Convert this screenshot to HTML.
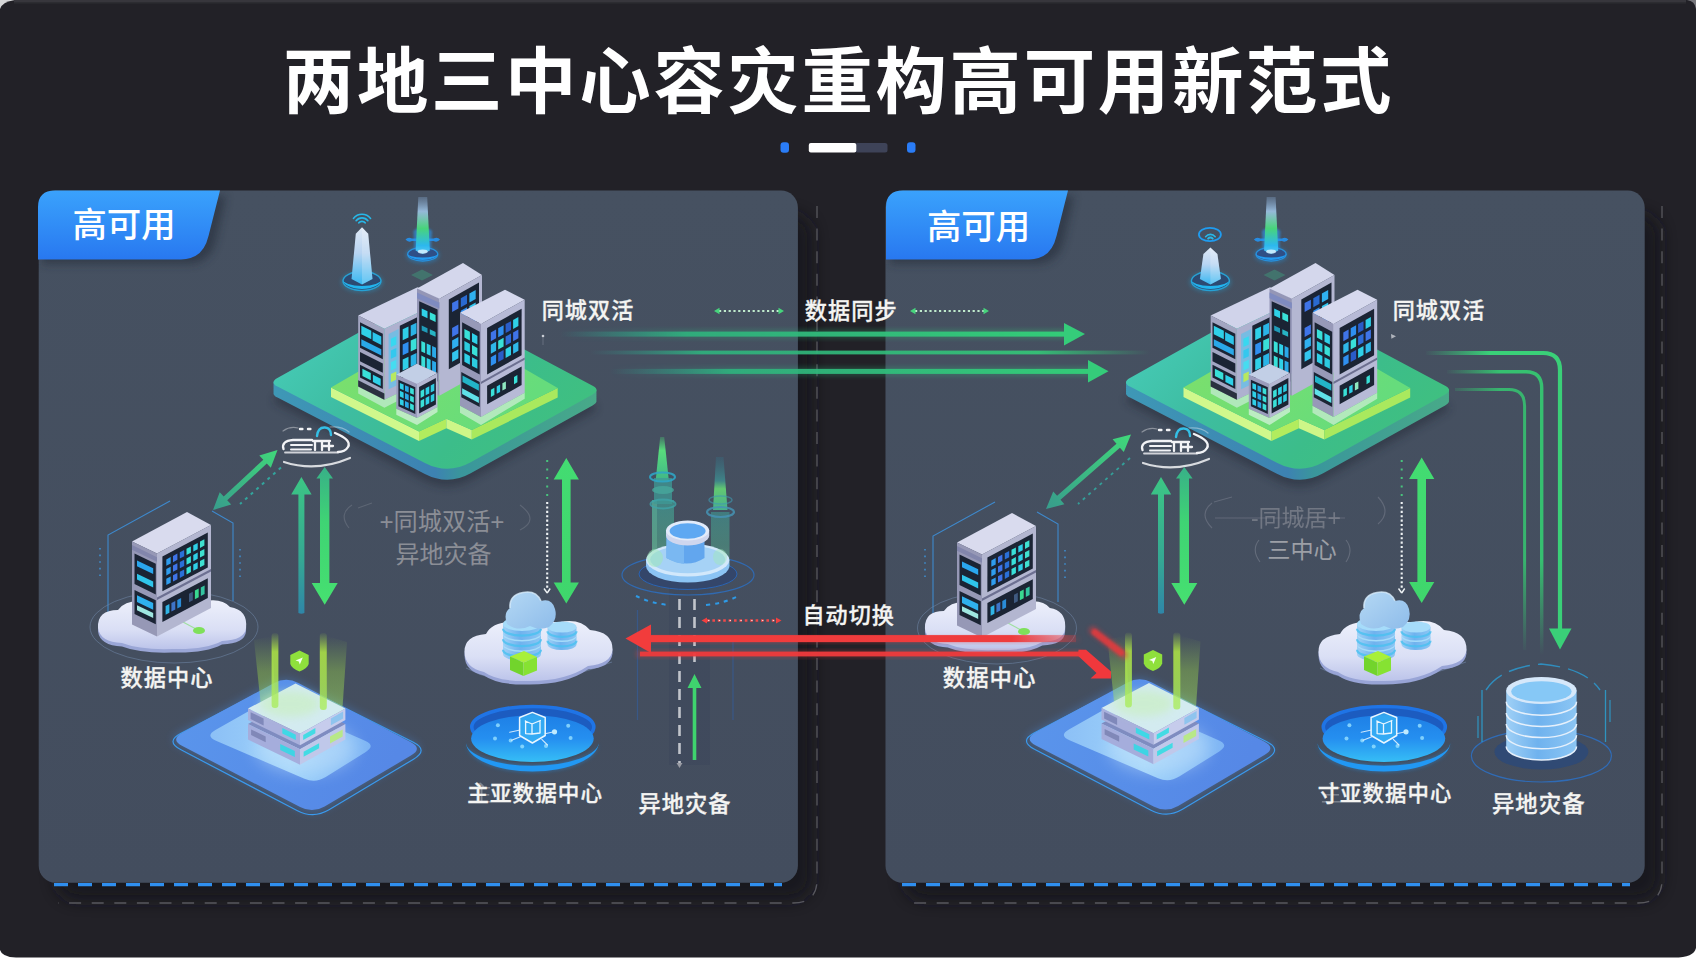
<!DOCTYPE html>
<html lang="zh"><head><meta charset="utf-8"><title>两地三中心容灾重构高可用新范式</title>
<style>
html,body{margin:0;padding:0;background:#fff;}
body{width:1696px;height:960px;overflow:hidden;position:relative;font-family:"Liberation Sans","Noto Sans CJK SC",sans-serif;}
svg{position:absolute;left:0;top:0;display:block}
svg text{font-family:"Liberation Sans","Noto Sans CJK SC",sans-serif;}
</style></head><body>
<svg width="1696" height="960" viewBox="0 0 1696 960">
<defs>

<linearGradient id="gPanel" x1="0" y1="0" x2="0" y2="1"><stop offset="0" stop-color="#465161"/><stop offset="1" stop-color="#434d5e"/></linearGradient>
<linearGradient id="gTag" x1="0" y1="0" x2="0" y2="1"><stop offset="0" stop-color="#3aa2fc"/><stop offset="1" stop-color="#2878f0"/></linearGradient>
<linearGradient id="gPlat" x1="0" y1="0.2" x2="1" y2="0.7"><stop offset="0" stop-color="#47cdb9"/><stop offset="0.35" stop-color="#3ebda2"/><stop offset="0.7" stop-color="#3cbd8a"/><stop offset="1" stop-color="#40c07e"/></linearGradient>
<linearGradient id="gPlatSide" x1="0" y1="0" x2="1" y2="0"><stop offset="0" stop-color="#3e98b6"/><stop offset="0.5" stop-color="#3d82b2"/><stop offset="0.58" stop-color="#3a969c"/><stop offset="1" stop-color="#48aa88"/></linearGradient>
<linearGradient id="gInner" x1="0" y1="0" x2="1" y2="0.4"><stop offset="0" stop-color="#7fe06a"/><stop offset="1" stop-color="#66dc7c"/></linearGradient>
<linearGradient id="gHArrow" x1="0" y1="0" x2="1" y2="0"><stop offset="0" stop-color="#2f9a90" stop-opacity="0"/><stop offset="0.25" stop-color="#2fb37e" stop-opacity="0.9"/><stop offset="1" stop-color="#34cc78"/></linearGradient>
<linearGradient id="gHLine2" x1="0" y1="0" x2="1" y2="0"><stop offset="0" stop-color="#2f9a90" stop-opacity="0"/><stop offset="0.2" stop-color="#2fb37e" stop-opacity="0.9"/><stop offset="0.8" stop-color="#34c878" stop-opacity="0.9"/><stop offset="1" stop-color="#34c878" stop-opacity="0"/></linearGradient>
<linearGradient id="gUpThin" x1="0" y1="0" x2="0" y2="1"><stop offset="0" stop-color="#3cc684"/><stop offset="0.6" stop-color="#35a893"/><stop offset="1" stop-color="#2f86a8"/></linearGradient>
<linearGradient id="gDownThick" x1="0" y1="0" x2="0" y2="1"><stop offset="0" stop-color="#38b088"/><stop offset="0.4" stop-color="#3fd474"/><stop offset="1" stop-color="#46e070"/></linearGradient>
<linearGradient id="gDbl" x1="0" y1="0" x2="0" y2="1"><stop offset="0" stop-color="#43dc72"/><stop offset="1" stop-color="#3fd66c"/></linearGradient>
<linearGradient id="gDiag" x1="1" y1="0" x2="0" y2="1"><stop offset="0" stop-color="#40d87a"/><stop offset="1" stop-color="#389c8c"/></linearGradient>
<linearGradient id="gRed" x1="0" y1="0" x2="1" y2="0"><stop offset="0" stop-color="#f23c3c"/><stop offset="0.85" stop-color="#ee3c3e"/><stop offset="1" stop-color="#ee3c3e" stop-opacity="0.25"/></linearGradient>
<linearGradient id="gCloudBase" x1="0" y1="0" x2="0" y2="1"><stop offset="0" stop-color="#edf0fb"/><stop offset="0.6" stop-color="#dadff5"/><stop offset="1" stop-color="#bcc4ea"/></linearGradient>
<linearGradient id="gBluePlat" x1="0" y1="0" x2="1" y2="0.3"><stop offset="0" stop-color="#5a96ec"/><stop offset="1" stop-color="#5688e6"/></linearGradient>
<linearGradient id="gBlueIn" x1="0" y1="0" x2="1" y2="0"><stop offset="0" stop-color="#8cc0f6"/><stop offset="0.5" stop-color="#9ed2fa"/><stop offset="1" stop-color="#7db4f4"/></linearGradient>
<linearGradient id="gBeam" x1="0" y1="0" x2="0" y2="1"><stop offset="0" stop-color="#b0e844" stop-opacity="0.05"/><stop offset="0.25" stop-color="#b0e844" stop-opacity="0.85"/><stop offset="1" stop-color="#aaec60" stop-opacity="0.8"/></linearGradient>
<linearGradient id="gBeamW" x1="0" y1="0" x2="0" y2="1"><stop offset="0" stop-color="#9fdc48" stop-opacity="0"/><stop offset="0.45" stop-color="#9fdc48" stop-opacity="0.38"/><stop offset="1" stop-color="#a6e868" stop-opacity="0.5"/></linearGradient>
<radialGradient id="gDisc" cx="0.5" cy="0.45" r="0.6"><stop offset="0" stop-color="#3eb4f4"/><stop offset="0.7" stop-color="#238ae6"/><stop offset="1" stop-color="#1c74d8"/></radialGradient>
<linearGradient id="gObelisk" x1="0" y1="0" x2="0" y2="1"><stop offset="0" stop-color="#dfe9f6"/><stop offset="0.45" stop-color="#b8d4f2"/><stop offset="1" stop-color="#38b8f2"/></linearGradient>
<linearGradient id="gTower2" x1="0" y1="0" x2="0" y2="1"><stop offset="0" stop-color="#7f9fc4" stop-opacity="0.35"/><stop offset="0.25" stop-color="#9ec4e6" stop-opacity="0.9"/><stop offset="0.55" stop-color="#48d47a"/><stop offset="0.85" stop-color="#2cb8ee"/><stop offset="1" stop-color="#5cc8f6"/></linearGradient>
<linearGradient id="gTowerG" x1="0" y1="0" x2="0" y2="1"><stop offset="0" stop-color="#46c878" stop-opacity="0.2"/><stop offset="0.35" stop-color="#42c47a" stop-opacity="0.95"/><stop offset="0.7" stop-color="#3a9aa6" stop-opacity="0.8"/><stop offset="1" stop-color="#3f78b0" stop-opacity="0.4"/></linearGradient>
<linearGradient id="gCyl" x1="0" y1="0" x2="1" y2="0"><stop offset="0" stop-color="#9fd0f6"/><stop offset="0.45" stop-color="#6fb2ee"/><stop offset="1" stop-color="#8cc6f4"/></linearGradient>
<linearGradient id="gCloudTop" x1="0" y1="0" x2="1" y2="1"><stop offset="0" stop-color="#b4d8f4"/><stop offset="1" stop-color="#8ebcea"/></linearGradient>
<linearGradient id="gTube" x1="0" y1="0" x2="0" y2="1"><stop offset="0" stop-color="#3f9a94" stop-opacity="0.7"/><stop offset="0.6" stop-color="#52b894" stop-opacity="0.5"/><stop offset="1" stop-color="#7fe0b0" stop-opacity="0.4"/></linearGradient>
<linearGradient id="gSpike" x1="0" y1="0" x2="0" y2="1"><stop offset="0" stop-color="#4ccc78" stop-opacity="0.3"/><stop offset="0.3" stop-color="#58dc7c"/><stop offset="1" stop-color="#3fb488"/></linearGradient>
<linearGradient id="gSpike2" x1="0" y1="0" x2="0" y2="1"><stop offset="0" stop-color="#3a6478" stop-opacity="0.5"/><stop offset="0.45" stop-color="#3f8488"/><stop offset="0.6" stop-color="#62c872"/><stop offset="1" stop-color="#48b08c"/></linearGradient>
<linearGradient id="gDiscL" x1="0" y1="0" x2="0" y2="1"><stop offset="0" stop-color="#1e80e6"/><stop offset="0.5" stop-color="#258ff0"/><stop offset="1" stop-color="#36bef6"/></linearGradient>
<filter id="blur1" x="-20%" y="-20%" width="140%" height="140%"><feGaussianBlur stdDeviation="1"/></filter>
<filter id="blur2" x="-30%" y="-30%" width="160%" height="160%"><feGaussianBlur stdDeviation="2.2"/></filter>
<filter id="blur4" x="-30%" y="-30%" width="160%" height="160%"><feGaussianBlur stdDeviation="4"/></filter>
<filter id="blur8" x="-30%" y="-30%" width="160%" height="160%"><feGaussianBlur stdDeviation="8"/></filter>

<clipPath id="clip38"><rect x="38.0" y="190.4" width="759.5" height="692.4" rx="17"/></clipPath>
<clipPath id="clip886"><rect x="886.0" y="190.4" width="759.5" height="692.4" rx="17"/></clipPath>
<linearGradient id="gCurve" gradientUnits="userSpaceOnUse" x1="1424" y1="0" x2="1490" y2="0"><stop offset="0" stop-color="#36c878" stop-opacity="0"/><stop offset="1" stop-color="#3ad078"/></linearGradient><linearGradient id="gCurve2" gradientUnits="userSpaceOnUse" x1="1445" y1="0" x2="1500" y2="0"><stop offset="0" stop-color="#36c070" stop-opacity="0"/><stop offset="1" stop-color="#36c070"/></linearGradient>
<linearGradient id="gFadeDown" gradientUnits="userSpaceOnUse" x1="0" y1="560" x2="0" y2="655"><stop offset="0" stop-color="#36c070"/><stop offset="1" stop-color="#36c070" stop-opacity="0"/></linearGradient>
</defs>
<rect width="1696" height="960" fill="#ffffff"/>
<rect x="0" y="0" width="30" height="20" fill="#d6d6d8"/>
<rect x="1676" y="0" width="20" height="14" fill="#77777c"/>
<path d="M0 9 Q2.5 1.5 15 0 H1687 Q1695 1 1696 9 V948 Q1694 957.6 1674 957.6 H16 Q2 957 0 950 Z" fill="#222127"/>
<rect x="14" y="0" width="1672" height="2.6" fill="#37363c"/>
<rect x="14" y="2.6" width="1672" height="1" fill="#2c2b31"/>
<rect x="56" y="214" width="756" height="686" rx="22" fill="#18171c" opacity="0.8" filter="url(#blur8)"/>
<rect x="904" y="214" width="756" height="686" rx="22" fill="#18171c" opacity="0.8" filter="url(#blur8)"/>
<path d="M817.0 206 V880 Q817.0 903 793.0 903 H58.0" fill="none" stroke="#626267" stroke-width="1.3" stroke-dasharray="12 10.6" opacity="0.85"/>
<path d="M1662.0 206 V880 Q1662.0 903 1638.0 903 H906.0" fill="none" stroke="#626267" stroke-width="1.3" stroke-dasharray="12 10.6" opacity="0.85"/>
<rect x="38.7" y="190.4" width="759.2" height="692.4" rx="17" fill="url(#gPanel)"/>
<line x1="54" y1="884.6" x2="782" y2="884.6" stroke="#2f8ff0" stroke-width="3.2" stroke-dasharray="14 10"/>
<path d="M42.0 264 H188.0 Q210.0 264 216.0 240 L226.0 196 H42.0 Z" fill="#232a38" opacity="0.55" filter="url(#blur4)" clip-path="url(#clip38)"/>
<path d="M38.0 259.4 V207 Q38.0 190.4 55.0 190.4 H220.0 L208.5 236 Q203.0 259.4 181.0 259.4 Z" fill="url(#gTag)"/>
<rect x="885.5" y="190.4" width="759.2" height="692.4" rx="17" fill="url(#gPanel)"/>
<line x1="902" y1="884.6" x2="1630" y2="884.6" stroke="#2f8ff0" stroke-width="3.2" stroke-dasharray="14 10"/>
<path d="M890.0 264 H1036.0 Q1058.0 264 1064.0 240 L1074.0 196 H890.0 Z" fill="#232a38" opacity="0.55" filter="url(#blur4)" clip-path="url(#clip886)"/>
<path d="M886.0 259.4 V207 Q886.0 190.4 903.0 190.4 H1068.0 L1056.5 236 Q1051.0 259.4 1029.0 259.4 Z" fill="url(#gTag)"/>
<text x="282.8" y="107.1" font-size="71.4" font-weight="700" fill="#ffffff" letter-spacing="2.7">两地三中心容灾重构高可用新范式</text>
<rect x="780.5" y="142.3" width="8.5" height="10.5" rx="3" fill="#2a7cf6"/>
<rect x="907" y="142.3" width="8.5" height="10.5" rx="3" fill="#2a7cf6"/>
<rect x="855" y="143" width="32.5" height="9.6" rx="2.5" fill="#3e4358"/>
<rect x="808.8" y="143" width="47.5" height="9.6" rx="2" fill="#ffffff"/>
<text x="124" y="237" font-size="34.4" font-weight="500" fill="#ffffff" text-anchor="middle">高可用</text>
<text x="978.5" y="238.6" font-size="34.4" font-weight="500" fill="#ffffff" text-anchor="middle">高可用</text>
<rect x="560" y="331.6" width="506" height="5" fill="url(#gHArrow)"/>
<rect x="560" y="329" width="506" height="10" fill="url(#gHArrow)" opacity="0.25" filter="url(#blur2)"/>
<path d="M1064 323 L1085 334 L1064 345.5 Z" fill="#35cc7a"/>
<rect x="590" y="350.6" width="560" height="3.8" fill="url(#gHLine2)"/>
<rect x="610" y="368.9" width="480" height="5" fill="url(#gHArrow)"/>
<rect x="610" y="366.5" width="480" height="10" fill="url(#gHArrow)" opacity="0.25" filter="url(#blur2)"/>
<path d="M1088 360 L1108.5 371.3 L1088 382.5 Z" fill="#35cc7a"/>
<path d="M1426 353 H1543 Q1560 353 1560 370 V630" fill="none" stroke="url(#gCurve)" stroke-width="4.2"/>
<rect x="1420" y="349" width="40" height="8" fill="url(#gPanel)" opacity="0"/>
<path d="M1549 628.5 H1571.5 L1560 649.5 Z" fill="#3ad078"/>
<path d="M1447 371.7 H1526 Q1541.7 371.7 1541.7 388 V560" fill="none" stroke="url(#gCurve2)" stroke-width="3.4"/>
<rect x="1540" y="560" width="3.4" height="95" fill="url(#gFadeDown)"/>
<path d="M1455 389.6 H1509 Q1524.6 389.6 1524.6 406 V560" fill="none" stroke="url(#gCurve2)" stroke-width="3" opacity="0.9"/>
<rect x="1523.1" y="560" width="3" height="90" fill="url(#gFadeDown)" opacity="0.9"/>
<g transform="translate(0.0 0.0)"><ellipse cx="362" cy="282" rx="21" ry="10.5" fill="#1fb0ea" opacity="0.3" filter="url(#blur2)"/><ellipse cx="362" cy="281" rx="18.5" ry="9" fill="#2c4a72"/><path d="M342.5 279 A19.5 10 0 0 0 381.5 279 A19.5 7 0 0 1 342.5 279 Z" fill="#22b4ee"/><ellipse cx="362" cy="281" rx="19" ry="9.5" fill="none" stroke="#22b0ea" stroke-width="1.4" opacity="0.8"/><polygon points="362.0,227.3 368.2,233.8 372.5,279.0 362.0,284.5 351.5,279.0 355.8,233.8" fill="url(#gObelisk)" /><polygon points="362.0,227.3 368.2,233.8 372.5,279.0 362.0,284.5 362.0,236.3" fill="#ffffff" opacity="0.2"/><path d="M358.9 222.8 A4.0 4.0 0 0 1 365.1 222.8" fill="none" stroke="#27b8e8" stroke-width="1.8" stroke-linecap="round"/><path d="M356.1 220.7 A7.5 7.5 0 0 1 367.9 220.7" fill="none" stroke="#27b8e8" stroke-width="1.6" stroke-linecap="round"/><path d="M353.4 218.5 A11.0 11.0 0 0 1 370.6 218.5" fill="none" stroke="#27b8e8" stroke-width="1.5" stroke-linecap="round"/><ellipse cx="422.7" cy="255" rx="16.5" ry="8" fill="#1f9cf0" opacity="0.4" filter="url(#blur2)"/><ellipse cx="422.7" cy="254.2" rx="14.5" ry="6.4" fill="#2f4f86"/><path d="M407 253 A15.7 7 0 0 0 438.4 253 A15.7 4.6 0 0 1 407 253 Z" fill="#239cf2"/><ellipse cx="422.7" cy="254.2" rx="15" ry="6.8" fill="none" stroke="#239cf2" stroke-width="1.3" opacity="0.8"/><path d="M405.5 239.5 Q408 236.5 412 238.5 L433.5 238.5 Q437.5 236.5 440 239.5 Q437.5 242.8 433.5 241 L412 241 Q408 242.8 405.5 239.5 Z" fill="#2392f0" opacity="0.9"/><path d="M413.5 231 Q422.7 223 432 231 L431 249 Q422.7 255 414.5 249 Z" fill="#2a96f0" opacity="0.6" filter="url(#blur1)"/><polygon points="418.3,197.0 427.2,197.0 429.8,250.5 422.7,254.0 415.7,250.5" fill="url(#gTower2)" /><ellipse cx="422.7" cy="251.5" rx="5" ry="2" fill="#dff4ff" opacity="0.8"/><path d="M277.5 397.6 Q269.5 393.5 277.4 389.1 L413.5 312.9 Q424.0 307.0 434.6 312.6 L592.6 396.8 Q600.5 401.0 592.6 405.4 L470.7 473.3 Q448.0 486.0 424.9 474.0 Z" fill="#1d232e" opacity="0.4" filter="url(#blur4)" transform="translate(0 7)"/><path d="M277.5 386.6 Q269.5 382.5 277.4 378.1 L413.5 301.9 Q424.0 296.0 434.6 301.6 L592.6 385.8 Q600.5 390.0 592.6 394.4 L470.7 462.3 Q448.0 475.0 424.9 463.0 Z" fill="url(#gPlatSide)" transform="translate(0 11)"/><path d="M277.5 386.6 Q269.5 382.5 277.4 378.1 L413.5 301.9 Q424.0 296.0 434.6 301.6 L592.6 385.8 Q600.5 390.0 592.6 394.4 L470.7 462.3 Q448.0 475.0 424.9 463.0 Z" fill="url(#gPlatSide)" transform="translate(0 9)"/><path d="M277.5 386.6 Q269.5 382.5 277.4 378.1 L413.5 301.9 Q424.0 296.0 434.6 301.6 L592.6 385.8 Q600.5 390.0 592.6 394.4 L470.7 462.3 Q448.0 475.0 424.9 463.0 Z" fill="url(#gPlatSide)" transform="translate(0 7)"/><path d="M277.5 386.6 Q269.5 382.5 277.4 378.1 L413.5 301.9 Q424.0 296.0 434.6 301.6 L592.6 385.8 Q600.5 390.0 592.6 394.4 L470.7 462.3 Q448.0 475.0 424.9 463.0 Z" fill="url(#gPlatSide)" transform="translate(0 5)"/><path d="M277.5 386.6 Q269.5 382.5 277.4 378.1 L413.5 301.9 Q424.0 296.0 434.6 301.6 L592.6 385.8 Q600.5 390.0 592.6 394.4 L470.7 462.3 Q448.0 475.0 424.9 463.0 Z" fill="url(#gPlatSide)" transform="translate(0 3)"/><path d="M277.5 386.6 Q269.5 382.5 277.4 378.1 L413.5 301.9 Q424.0 296.0 434.6 301.6 L592.6 385.8 Q600.5 390.0 592.6 394.4 L470.7 462.3 Q448.0 475.0 424.9 463.0 Z" fill="url(#gPlatSide)" transform="translate(0 1)"/><path d="M277.5 386.6 Q269.5 382.5 277.4 378.1 L413.5 301.9 Q424.0 296.0 434.6 301.6 L592.6 385.8 Q600.5 390.0 592.6 394.4 L470.7 462.3 Q448.0 475.0 424.9 463.0 Z" fill="url(#gPlat)"/><polygon points="331.0,387.5 419.0,431.5 419.0,441.0 331.0,397.0" fill="#d0f88c" /><polygon points="419.0,431.5 446.4,418.7 446.4,428.2 419.0,441.0" fill="#b2ec5e" /><polygon points="446.4,418.7 471.8,430.1 471.8,439.6 446.4,428.2" fill="#cdf688" /><polygon points="471.8,430.1 557.7,388.0 557.7,397.5 471.8,439.6" fill="#a9e95e" /><polygon points="331.0,387.5 419.0,431.5 446.4,418.7 471.8,430.1 557.7,388.0 444.0,322.0" fill="url(#gInner)" /><polygon points="411.0,275.0 422.0,269.5 433.0,275.0 422.0,280.5" fill="#3f8f78" opacity="0.55"/><polygon points="358.2,386.6 384.4,399.8 443.7,371.5 443.7,377.5 384.4,407.8 358.2,393.6" fill="#bfeacc" opacity="0.8"/><polygon points="358.2,315.6 417.5,287.3 443.7,300.5 384.4,328.8" fill="#d0d3ea" /><polygon points="358.2,315.6 384.4,328.8 384.4,399.8 358.2,386.6" fill="#a3a6c2" /><polygon points="384.4,328.8 443.7,300.5 443.7,371.5 384.4,399.8" fill="#aeb1cf" /><polygon points="360.0,322.2 382.8,333.7 382.8,359.2 360.0,347.8" fill="#1b2434" /><polygon points="360.0,352.0 382.8,363.5 382.8,372.7 360.0,361.3" fill="#1b2434" /><polygon points="360.0,364.8 382.8,376.3 382.8,389.1 360.0,377.6" fill="#1b2434" /><polygon points="358.2,380.2 384.4,393.4 384.4,399.8 358.2,386.6" fill="#2a3040" /><polygon points="361.3,325.7 371.3,330.7 371.3,339.2 361.3,334.2" fill="#2fd0e8" /><polygon points="372.6,332.1 381.3,336.4 381.3,345.0 372.6,340.6" fill="#2cc4ea" /><polygon points="361.3,339.2 381.3,349.2 381.3,355.6 361.3,345.6" fill="#2aa8e8" /><polygon points="362.4,368.8 370.8,373.1 370.8,380.2 362.4,375.9" fill="#39e0d8" /><polygon points="372.9,374.8 380.7,378.8 380.7,385.9 372.9,381.9" fill="#2fd0e8" /><polygon points="388.6,333.9 398.6,329.1 398.6,384.5 388.6,389.3" fill="#5fc0ea" opacity="0.7"/><polygon points="390.9,338.8 396.3,336.2 396.3,344.4 390.9,347.0" fill="#38d8f0" /><polygon points="390.9,350.5 396.3,348.0 396.3,356.2 390.9,358.7" fill="#34c8ee" /><polygon points="390.9,362.2 396.3,359.7 396.3,367.9 390.9,370.4" fill="#46dcf0" /><polygon points="390.9,374.0 396.3,371.4 396.3,379.6 390.9,382.2" fill="#b8e860" /><polygon points="399.8,325.7 418.8,316.6 418.8,370.6 399.8,379.7" fill="#1b2434" /><polygon points="402.7,329.3 408.5,326.5 408.5,337.4 402.7,340.2" fill="#2fd0e8" /><polygon points="410.7,325.5 416.5,322.7 416.5,333.6 410.7,336.4" fill="#2ab4e6" /><polygon points="402.7,344.4 408.5,341.7 408.5,352.6 402.7,355.3" fill="#2f8ff0" /><polygon points="410.7,340.6 416.5,337.9 416.5,348.8 410.7,351.5" fill="#39e0d8" /><polygon points="402.7,359.6 408.5,356.8 408.5,367.7 402.7,370.5" fill="#2fd0e8" /><polygon points="410.7,355.8 416.5,353.0 416.5,363.9 410.7,366.7" fill="#2ab4e6" /><polygon points="417.0,288.5 463.0,263.0 482.0,275.0 439.4,298.8" fill="#d4d7ec" /><polygon points="417.0,288.5 439.4,298.8 439.4,395.8 417.0,385.5" fill="#9496b6" /><polygon points="439.4,298.8 482.0,275.0 482.0,372.0 439.4,395.8" fill="#b4b7d2" /><polygon points="417.0,292.4 439.4,302.7 439.4,308.5 417.0,298.2" fill="#7f8bc0" /><polygon points="419.2,301.2 437.6,309.6 437.6,381.4 419.2,372.9" fill="#1b2434" /><polygon points="421.7,308.5 427.5,311.2 427.5,318.2 421.7,315.5" fill="#2fd0e8" /><polygon points="429.8,312.2 435.6,314.9 435.6,321.9 429.8,319.2" fill="#39e0d8" /><polygon points="421.7,325.6 427.5,328.2 427.5,333.1 421.7,330.5" fill="#1f9ab8" /><polygon points="429.8,329.3 435.6,331.9 435.6,336.8 429.8,334.2" fill="#27b4c4" /><polygon points="421.3,341.0 425.2,342.8 425.2,353.3 421.3,351.5" fill="#39e0d8" /><polygon points="426.7,343.5 430.6,345.3 430.6,355.8 426.7,354.0" fill="#2fd0e8" /><polygon points="432.1,346.0 436.0,347.8 436.0,358.2 432.1,356.5" fill="#2aa8e8" /><polygon points="421.3,355.6 425.2,357.4 425.2,367.8 421.3,366.1" fill="#39e0d8" /><polygon points="426.7,358.1 430.6,359.8 430.6,370.3 426.7,368.5" fill="#2fd0e8" /><polygon points="432.1,360.5 436.0,362.3 436.0,372.8 432.1,371.0" fill="#2aa8e8" /><polygon points="448.8,299.4 479.0,282.5 479.0,352.3 448.8,369.2" fill="#1b2434" /><polygon points="452.1,303.1 458.4,299.7 458.4,308.6 452.1,312.1" fill="#3f74e8" /><polygon points="460.8,298.3 467.0,294.8 467.0,303.8 460.8,307.2" fill="#2a6ad0" /><polygon points="469.4,293.5 475.7,290.0 475.7,298.9 469.4,302.4" fill="#2fb0f0" /><polygon points="460.8,310.7 467.0,307.2 467.0,316.2 460.8,319.7" fill="#2f8ff0" /><polygon points="469.4,305.9 475.7,302.4 475.7,311.3 469.4,314.8" fill="#33c6ee" /><polygon points="452.1,328.0 458.4,324.5 458.4,333.4 452.1,336.9" fill="#3f74e8" /><polygon points="460.8,323.1 467.0,319.6 467.0,328.6 460.8,332.1" fill="#3f74e8" /><polygon points="469.4,318.3 475.7,314.8 475.7,323.7 469.4,327.2" fill="#2a6ad0" /><polygon points="452.1,340.4 458.4,336.9 458.4,345.8 452.1,349.3" fill="#2fb0f0" /><polygon points="469.4,330.7 475.7,327.2 475.7,336.2 469.4,339.6" fill="#2f8ff0" /><polygon points="452.1,352.8 458.4,349.3 458.4,358.3 452.1,361.7" fill="#33c6ee" /><polygon points="460.8,348.0 467.0,344.5 467.0,353.4 460.8,356.9" fill="#3f74e8" /><polygon points="469.4,343.1 475.7,339.6 475.7,348.6 469.4,352.1" fill="#3f74e8" /><polygon points="460.0,405.8 481.0,417.0 524.7,392.7 524.7,398.7 481.0,425.0 460.0,412.8" fill="#c4eccc" opacity="0.8"/><polygon points="460.0,312.8 505.0,289.8 524.7,299.7 481.0,324.0" fill="#d6d9ee" /><polygon points="460.0,312.8 481.0,324.0 481.0,417.0 460.0,405.8" fill="#9799b8" /><polygon points="481.0,324.0 524.7,299.7 524.7,392.7 481.0,417.0" fill="#b7bad6" /><polygon points="462.1,322.3 479.7,331.7 479.7,374.5 462.1,365.1" fill="#1b2434" /><polygon points="464.4,328.9 469.9,331.8 469.9,340.5 464.4,337.6" fill="#39e0d8" /><polygon points="472.0,333.0 477.4,335.9 477.4,344.6 472.0,341.7" fill="#2fd0e8" /><polygon points="464.4,341.0 469.9,343.9 469.9,352.6 464.4,349.7" fill="#2ccbe0" /><polygon points="472.0,345.1 477.4,348.0 477.4,356.7 472.0,353.8" fill="#39e0d8" /><polygon points="464.4,353.1 469.9,356.0 469.9,364.7 464.4,361.8" fill="#2fd0e8" /><polygon points="472.0,357.2 477.4,360.1 477.4,368.8 472.0,365.9" fill="#2ccbe0" /><polygon points="461.3,372.1 479.7,381.9 479.7,407.0 461.3,397.2" fill="#1b2434" /><polygon points="462.5,375.5 478.9,384.3 478.9,390.8 462.5,382.0" fill="#23b4c8" /><polygon points="462.1,388.3 478.9,397.3 478.9,402.9 462.1,393.9" fill="#5fe0e8" /><polygon points="487.1,328.0 521.6,308.8 521.6,355.3 487.1,374.5" fill="#1b2434" /><polygon points="490.8,332.4 496.1,329.4 496.1,338.3 490.8,341.3" fill="#3f74e8" /><polygon points="498.2,328.3 503.6,325.3 503.6,334.2 498.2,337.2" fill="#2f8ff0" /><polygon points="505.6,324.1 511.0,321.2 511.0,330.1 505.6,333.1" fill="#2a5cc8" /><polygon points="513.1,320.0 518.4,317.0 518.4,325.9 513.1,328.9" fill="#2fd0e8" /><polygon points="490.8,344.8 496.1,341.8 496.1,350.7 490.8,353.7" fill="#2fb8ea" /><polygon points="498.2,340.7 503.6,337.7 503.6,346.6 498.2,349.6" fill="#39e0d8" /><polygon points="505.6,336.5 511.0,333.6 511.0,342.5 505.6,345.5" fill="#2f6cd8" /><polygon points="513.1,332.4 518.4,329.4 518.4,338.3 513.1,341.3" fill="#3f74e8" /><polygon points="490.8,357.2 496.1,354.2 496.1,363.1 490.8,366.1" fill="#2f8ff0" /><polygon points="498.2,353.1 503.6,350.1 503.6,359.0 498.2,362.0" fill="#2a5cc8" /><polygon points="505.6,348.9 511.0,346.0 511.0,354.9 505.6,357.9" fill="#2fd0e8" /><polygon points="513.1,344.8 518.4,341.8 518.4,350.7 513.1,353.7" fill="#2fb8ea" /><polygon points="481.0,381.7 524.7,357.4 524.7,359.7 481.0,384.0" fill="#6c6f90" /><polygon points="487.1,385.7 521.6,366.5 521.6,385.1 487.1,404.3" fill="#1b2434" /><polygon points="490.9,389.7 494.4,387.8 494.4,395.1 490.9,397.0" fill="#39e0d8" /><polygon points="496.7,386.5 500.1,384.6 500.1,391.9 496.7,393.8" fill="#2fd0e8" /><polygon points="502.4,383.3 505.9,381.4 505.9,388.7 502.4,390.6" fill="#8fe8c0" /><polygon points="514.0,376.9 517.4,375.0 517.4,382.2 514.0,384.2" fill="#39e0d8" /><polygon points="396.3,408.7 417.0,418.0 437.5,407.0 437.5,412.0 417.0,425.0 396.3,414.7" fill="#c9efd0" opacity="0.85"/><polygon points="396.3,374.7 416.8,363.7 437.5,373.0 417.0,384.0" fill="#c2cfe6" /><polygon points="396.3,374.7 417.0,384.0 417.0,418.0 396.3,408.7" fill="#9a9cbc" /><polygon points="417.0,384.0 437.5,373.0 437.5,407.0 417.0,418.0" fill="#b4b7d2" /><polygon points="398.4,379.7 415.3,387.3 415.3,413.9 398.4,406.2" fill="#1b2434" /><polygon points="399.9,382.9 403.6,384.5 403.6,390.2 399.9,388.6" fill="#2fd0e8" /><polygon points="405.0,385.2 408.7,386.8 408.7,392.5 405.0,390.9" fill="#2aa8e8" /><polygon points="410.1,387.5 413.8,389.1 413.8,394.8 410.1,393.2" fill="#39e0d8" /><polygon points="399.9,390.8 403.6,392.5 403.6,398.2 399.9,396.5" fill="#2fd0e8" /><polygon points="405.0,393.1 408.7,394.8 408.7,400.5 405.0,398.8" fill="#2aa8e8" /><polygon points="410.1,395.4 413.8,397.0 413.8,402.8 410.1,401.1" fill="#39e0d8" /><polygon points="399.9,398.7 403.6,400.4 403.6,406.1 399.9,404.5" fill="#2fd0e8" /><polygon points="405.0,401.0 408.7,402.7 408.7,408.4 405.0,406.7" fill="#2aa8e8" /><polygon points="410.1,403.3 413.8,405.0 413.8,410.7 410.1,409.0" fill="#39e0d8" /><polygon points="419.1,387.0 435.9,378.0 435.9,404.5 419.1,413.5" fill="#1b2434" /><polygon points="420.6,390.9 424.2,389.0 424.2,396.1 420.6,398.0" fill="#39e0d8" /><polygon points="425.6,388.2 429.3,386.3 429.3,393.4 425.6,395.3" fill="#2fd0e8" /><polygon points="430.7,385.5 434.3,383.6 434.3,390.7 430.7,392.6" fill="#2ccbe0" /><polygon points="420.6,400.8 424.2,398.8 424.2,405.9 420.6,407.9" fill="#39e0d8" /><polygon points="425.6,398.1 429.3,396.1 429.3,403.2 425.6,405.2" fill="#2fd0e8" /><polygon points="430.7,395.4 434.3,393.4 434.3,400.5 430.7,402.5" fill="#2ccbe0" /></g>
<g transform="translate(848.4 0.0)"><ellipse cx="362" cy="282" rx="21" ry="10.5" fill="#1fb0ea" opacity="0.3" filter="url(#blur2)"/><ellipse cx="362" cy="281" rx="18.5" ry="9" fill="#2c4a72"/><path d="M342.5 279 A19.5 10 0 0 0 381.5 279 A19.5 7 0 0 1 342.5 279 Z" fill="#22b4ee"/><ellipse cx="362" cy="281" rx="19" ry="9.5" fill="none" stroke="#22b0ea" stroke-width="1.4" opacity="0.8"/><polygon points="362.0,247.5 369.0,254.0 372.5,279.0 362.0,284.5 351.5,279.0 355.0,254.0" fill="url(#gObelisk)" /><polygon points="362.0,247.5 369.0,254.0 372.5,279.0 362.0,284.5 362.0,256.5" fill="#ffffff" opacity="0.2"/><ellipse cx="361.5" cy="234.5" rx="11" ry="6.6" fill="none" stroke="#1f9cf0" stroke-width="1.8"/><path d="M359.7 238.6 A3.0 3.0 0 0 1 364.3 238.6" fill="none" stroke="#27b8e8" stroke-width="2.0" stroke-linecap="round"/><path d="M357.2 236.7 A6.2 6.2 0 0 1 366.8 236.7" fill="none" stroke="#27b8e8" stroke-width="1.6" stroke-linecap="round"/><ellipse cx="422.7" cy="255" rx="16.5" ry="8" fill="#1f9cf0" opacity="0.4" filter="url(#blur2)"/><ellipse cx="422.7" cy="254.2" rx="14.5" ry="6.4" fill="#2f4f86"/><path d="M407 253 A15.7 7 0 0 0 438.4 253 A15.7 4.6 0 0 1 407 253 Z" fill="#239cf2"/><ellipse cx="422.7" cy="254.2" rx="15" ry="6.8" fill="none" stroke="#239cf2" stroke-width="1.3" opacity="0.8"/><path d="M405.5 239.5 Q408 236.5 412 238.5 L433.5 238.5 Q437.5 236.5 440 239.5 Q437.5 242.8 433.5 241 L412 241 Q408 242.8 405.5 239.5 Z" fill="#2392f0" opacity="0.9"/><path d="M413.5 231 Q422.7 223 432 231 L431 249 Q422.7 255 414.5 249 Z" fill="#2a96f0" opacity="0.6" filter="url(#blur1)"/><polygon points="418.3,197.0 427.2,197.0 429.8,250.5 422.7,254.0 415.7,250.5" fill="url(#gTower2)" /><ellipse cx="422.7" cy="251.5" rx="5" ry="2" fill="#dff4ff" opacity="0.8"/></g>
<g transform="translate(852.5 0.0)"><path d="M277.5 397.6 Q269.5 393.5 277.4 389.1 L413.5 312.9 Q424.0 307.0 434.6 312.6 L592.6 396.8 Q600.5 401.0 592.6 405.4 L470.7 473.3 Q448.0 486.0 424.9 474.0 Z" fill="#1d232e" opacity="0.4" filter="url(#blur4)" transform="translate(0 7)"/><path d="M277.5 386.6 Q269.5 382.5 277.4 378.1 L413.5 301.9 Q424.0 296.0 434.6 301.6 L592.6 385.8 Q600.5 390.0 592.6 394.4 L470.7 462.3 Q448.0 475.0 424.9 463.0 Z" fill="url(#gPlatSide)" transform="translate(0 11)"/><path d="M277.5 386.6 Q269.5 382.5 277.4 378.1 L413.5 301.9 Q424.0 296.0 434.6 301.6 L592.6 385.8 Q600.5 390.0 592.6 394.4 L470.7 462.3 Q448.0 475.0 424.9 463.0 Z" fill="url(#gPlatSide)" transform="translate(0 9)"/><path d="M277.5 386.6 Q269.5 382.5 277.4 378.1 L413.5 301.9 Q424.0 296.0 434.6 301.6 L592.6 385.8 Q600.5 390.0 592.6 394.4 L470.7 462.3 Q448.0 475.0 424.9 463.0 Z" fill="url(#gPlatSide)" transform="translate(0 7)"/><path d="M277.5 386.6 Q269.5 382.5 277.4 378.1 L413.5 301.9 Q424.0 296.0 434.6 301.6 L592.6 385.8 Q600.5 390.0 592.6 394.4 L470.7 462.3 Q448.0 475.0 424.9 463.0 Z" fill="url(#gPlatSide)" transform="translate(0 5)"/><path d="M277.5 386.6 Q269.5 382.5 277.4 378.1 L413.5 301.9 Q424.0 296.0 434.6 301.6 L592.6 385.8 Q600.5 390.0 592.6 394.4 L470.7 462.3 Q448.0 475.0 424.9 463.0 Z" fill="url(#gPlatSide)" transform="translate(0 3)"/><path d="M277.5 386.6 Q269.5 382.5 277.4 378.1 L413.5 301.9 Q424.0 296.0 434.6 301.6 L592.6 385.8 Q600.5 390.0 592.6 394.4 L470.7 462.3 Q448.0 475.0 424.9 463.0 Z" fill="url(#gPlatSide)" transform="translate(0 1)"/><path d="M277.5 386.6 Q269.5 382.5 277.4 378.1 L413.5 301.9 Q424.0 296.0 434.6 301.6 L592.6 385.8 Q600.5 390.0 592.6 394.4 L470.7 462.3 Q448.0 475.0 424.9 463.0 Z" fill="url(#gPlat)"/><polygon points="331.0,387.5 419.0,431.5 419.0,441.0 331.0,397.0" fill="#d0f88c" /><polygon points="419.0,431.5 446.4,418.7 446.4,428.2 419.0,441.0" fill="#b2ec5e" /><polygon points="446.4,418.7 471.8,430.1 471.8,439.6 446.4,428.2" fill="#cdf688" /><polygon points="471.8,430.1 557.7,388.0 557.7,397.5 471.8,439.6" fill="#a9e95e" /><polygon points="331.0,387.5 419.0,431.5 446.4,418.7 471.8,430.1 557.7,388.0 444.0,322.0" fill="url(#gInner)" /><polygon points="411.0,275.0 422.0,269.5 433.0,275.0 422.0,280.5" fill="#3f8f78" opacity="0.55"/><polygon points="358.2,386.6 384.4,399.8 443.7,371.5 443.7,377.5 384.4,407.8 358.2,393.6" fill="#bfeacc" opacity="0.8"/><polygon points="358.2,315.6 417.5,287.3 443.7,300.5 384.4,328.8" fill="#d0d3ea" /><polygon points="358.2,315.6 384.4,328.8 384.4,399.8 358.2,386.6" fill="#a3a6c2" /><polygon points="384.4,328.8 443.7,300.5 443.7,371.5 384.4,399.8" fill="#aeb1cf" /><polygon points="360.0,322.2 382.8,333.7 382.8,359.2 360.0,347.8" fill="#1b2434" /><polygon points="360.0,352.0 382.8,363.5 382.8,372.7 360.0,361.3" fill="#1b2434" /><polygon points="360.0,364.8 382.8,376.3 382.8,389.1 360.0,377.6" fill="#1b2434" /><polygon points="358.2,380.2 384.4,393.4 384.4,399.8 358.2,386.6" fill="#2a3040" /><polygon points="361.3,325.7 371.3,330.7 371.3,339.2 361.3,334.2" fill="#2fd0e8" /><polygon points="372.6,332.1 381.3,336.4 381.3,345.0 372.6,340.6" fill="#2cc4ea" /><polygon points="361.3,339.2 381.3,349.2 381.3,355.6 361.3,345.6" fill="#2aa8e8" /><polygon points="362.4,368.8 370.8,373.1 370.8,380.2 362.4,375.9" fill="#39e0d8" /><polygon points="372.9,374.8 380.7,378.8 380.7,385.9 372.9,381.9" fill="#2fd0e8" /><polygon points="388.6,333.9 398.6,329.1 398.6,384.5 388.6,389.3" fill="#5fc0ea" opacity="0.7"/><polygon points="390.9,338.8 396.3,336.2 396.3,344.4 390.9,347.0" fill="#38d8f0" /><polygon points="390.9,350.5 396.3,348.0 396.3,356.2 390.9,358.7" fill="#34c8ee" /><polygon points="390.9,362.2 396.3,359.7 396.3,367.9 390.9,370.4" fill="#46dcf0" /><polygon points="390.9,374.0 396.3,371.4 396.3,379.6 390.9,382.2" fill="#b8e860" /><polygon points="399.8,325.7 418.8,316.6 418.8,370.6 399.8,379.7" fill="#1b2434" /><polygon points="402.7,329.3 408.5,326.5 408.5,337.4 402.7,340.2" fill="#2fd0e8" /><polygon points="410.7,325.5 416.5,322.7 416.5,333.6 410.7,336.4" fill="#2ab4e6" /><polygon points="402.7,344.4 408.5,341.7 408.5,352.6 402.7,355.3" fill="#2f8ff0" /><polygon points="410.7,340.6 416.5,337.9 416.5,348.8 410.7,351.5" fill="#39e0d8" /><polygon points="402.7,359.6 408.5,356.8 408.5,367.7 402.7,370.5" fill="#2fd0e8" /><polygon points="410.7,355.8 416.5,353.0 416.5,363.9 410.7,366.7" fill="#2ab4e6" /><polygon points="417.0,288.5 463.0,263.0 482.0,275.0 439.4,298.8" fill="#d4d7ec" /><polygon points="417.0,288.5 439.4,298.8 439.4,395.8 417.0,385.5" fill="#9496b6" /><polygon points="439.4,298.8 482.0,275.0 482.0,372.0 439.4,395.8" fill="#b4b7d2" /><polygon points="417.0,292.4 439.4,302.7 439.4,308.5 417.0,298.2" fill="#7f8bc0" /><polygon points="419.2,301.2 437.6,309.6 437.6,381.4 419.2,372.9" fill="#1b2434" /><polygon points="421.7,308.5 427.5,311.2 427.5,318.2 421.7,315.5" fill="#2fd0e8" /><polygon points="429.8,312.2 435.6,314.9 435.6,321.9 429.8,319.2" fill="#39e0d8" /><polygon points="421.7,325.6 427.5,328.2 427.5,333.1 421.7,330.5" fill="#1f9ab8" /><polygon points="429.8,329.3 435.6,331.9 435.6,336.8 429.8,334.2" fill="#27b4c4" /><polygon points="421.3,341.0 425.2,342.8 425.2,353.3 421.3,351.5" fill="#39e0d8" /><polygon points="426.7,343.5 430.6,345.3 430.6,355.8 426.7,354.0" fill="#2fd0e8" /><polygon points="432.1,346.0 436.0,347.8 436.0,358.2 432.1,356.5" fill="#2aa8e8" /><polygon points="421.3,355.6 425.2,357.4 425.2,367.8 421.3,366.1" fill="#39e0d8" /><polygon points="426.7,358.1 430.6,359.8 430.6,370.3 426.7,368.5" fill="#2fd0e8" /><polygon points="432.1,360.5 436.0,362.3 436.0,372.8 432.1,371.0" fill="#2aa8e8" /><polygon points="448.8,299.4 479.0,282.5 479.0,352.3 448.8,369.2" fill="#1b2434" /><polygon points="452.1,303.1 458.4,299.7 458.4,308.6 452.1,312.1" fill="#3f74e8" /><polygon points="460.8,298.3 467.0,294.8 467.0,303.8 460.8,307.2" fill="#2a6ad0" /><polygon points="469.4,293.5 475.7,290.0 475.7,298.9 469.4,302.4" fill="#2fb0f0" /><polygon points="460.8,310.7 467.0,307.2 467.0,316.2 460.8,319.7" fill="#2f8ff0" /><polygon points="469.4,305.9 475.7,302.4 475.7,311.3 469.4,314.8" fill="#33c6ee" /><polygon points="452.1,328.0 458.4,324.5 458.4,333.4 452.1,336.9" fill="#3f74e8" /><polygon points="460.8,323.1 467.0,319.6 467.0,328.6 460.8,332.1" fill="#3f74e8" /><polygon points="469.4,318.3 475.7,314.8 475.7,323.7 469.4,327.2" fill="#2a6ad0" /><polygon points="452.1,340.4 458.4,336.9 458.4,345.8 452.1,349.3" fill="#2fb0f0" /><polygon points="469.4,330.7 475.7,327.2 475.7,336.2 469.4,339.6" fill="#2f8ff0" /><polygon points="452.1,352.8 458.4,349.3 458.4,358.3 452.1,361.7" fill="#33c6ee" /><polygon points="460.8,348.0 467.0,344.5 467.0,353.4 460.8,356.9" fill="#3f74e8" /><polygon points="469.4,343.1 475.7,339.6 475.7,348.6 469.4,352.1" fill="#3f74e8" /><polygon points="460.0,405.8 481.0,417.0 524.7,392.7 524.7,398.7 481.0,425.0 460.0,412.8" fill="#c4eccc" opacity="0.8"/><polygon points="460.0,312.8 505.0,289.8 524.7,299.7 481.0,324.0" fill="#d6d9ee" /><polygon points="460.0,312.8 481.0,324.0 481.0,417.0 460.0,405.8" fill="#9799b8" /><polygon points="481.0,324.0 524.7,299.7 524.7,392.7 481.0,417.0" fill="#b7bad6" /><polygon points="462.1,322.3 479.7,331.7 479.7,374.5 462.1,365.1" fill="#1b2434" /><polygon points="464.4,328.9 469.9,331.8 469.9,340.5 464.4,337.6" fill="#39e0d8" /><polygon points="472.0,333.0 477.4,335.9 477.4,344.6 472.0,341.7" fill="#2fd0e8" /><polygon points="464.4,341.0 469.9,343.9 469.9,352.6 464.4,349.7" fill="#2ccbe0" /><polygon points="472.0,345.1 477.4,348.0 477.4,356.7 472.0,353.8" fill="#39e0d8" /><polygon points="464.4,353.1 469.9,356.0 469.9,364.7 464.4,361.8" fill="#2fd0e8" /><polygon points="472.0,357.2 477.4,360.1 477.4,368.8 472.0,365.9" fill="#2ccbe0" /><polygon points="461.3,372.1 479.7,381.9 479.7,407.0 461.3,397.2" fill="#1b2434" /><polygon points="462.5,375.5 478.9,384.3 478.9,390.8 462.5,382.0" fill="#23b4c8" /><polygon points="462.1,388.3 478.9,397.3 478.9,402.9 462.1,393.9" fill="#5fe0e8" /><polygon points="487.1,328.0 521.6,308.8 521.6,355.3 487.1,374.5" fill="#1b2434" /><polygon points="490.8,332.4 496.1,329.4 496.1,338.3 490.8,341.3" fill="#3f74e8" /><polygon points="498.2,328.3 503.6,325.3 503.6,334.2 498.2,337.2" fill="#2f8ff0" /><polygon points="505.6,324.1 511.0,321.2 511.0,330.1 505.6,333.1" fill="#2a5cc8" /><polygon points="513.1,320.0 518.4,317.0 518.4,325.9 513.1,328.9" fill="#2fd0e8" /><polygon points="490.8,344.8 496.1,341.8 496.1,350.7 490.8,353.7" fill="#2fb8ea" /><polygon points="498.2,340.7 503.6,337.7 503.6,346.6 498.2,349.6" fill="#39e0d8" /><polygon points="505.6,336.5 511.0,333.6 511.0,342.5 505.6,345.5" fill="#2f6cd8" /><polygon points="513.1,332.4 518.4,329.4 518.4,338.3 513.1,341.3" fill="#3f74e8" /><polygon points="490.8,357.2 496.1,354.2 496.1,363.1 490.8,366.1" fill="#2f8ff0" /><polygon points="498.2,353.1 503.6,350.1 503.6,359.0 498.2,362.0" fill="#2a5cc8" /><polygon points="505.6,348.9 511.0,346.0 511.0,354.9 505.6,357.9" fill="#2fd0e8" /><polygon points="513.1,344.8 518.4,341.8 518.4,350.7 513.1,353.7" fill="#2fb8ea" /><polygon points="481.0,381.7 524.7,357.4 524.7,359.7 481.0,384.0" fill="#6c6f90" /><polygon points="487.1,385.7 521.6,366.5 521.6,385.1 487.1,404.3" fill="#1b2434" /><polygon points="490.9,389.7 494.4,387.8 494.4,395.1 490.9,397.0" fill="#39e0d8" /><polygon points="496.7,386.5 500.1,384.6 500.1,391.9 496.7,393.8" fill="#2fd0e8" /><polygon points="502.4,383.3 505.9,381.4 505.9,388.7 502.4,390.6" fill="#8fe8c0" /><polygon points="514.0,376.9 517.4,375.0 517.4,382.2 514.0,384.2" fill="#39e0d8" /><polygon points="396.3,408.7 417.0,418.0 437.5,407.0 437.5,412.0 417.0,425.0 396.3,414.7" fill="#c9efd0" opacity="0.85"/><polygon points="396.3,374.7 416.8,363.7 437.5,373.0 417.0,384.0" fill="#c2cfe6" /><polygon points="396.3,374.7 417.0,384.0 417.0,418.0 396.3,408.7" fill="#9a9cbc" /><polygon points="417.0,384.0 437.5,373.0 437.5,407.0 417.0,418.0" fill="#b4b7d2" /><polygon points="398.4,379.7 415.3,387.3 415.3,413.9 398.4,406.2" fill="#1b2434" /><polygon points="399.9,382.9 403.6,384.5 403.6,390.2 399.9,388.6" fill="#2fd0e8" /><polygon points="405.0,385.2 408.7,386.8 408.7,392.5 405.0,390.9" fill="#2aa8e8" /><polygon points="410.1,387.5 413.8,389.1 413.8,394.8 410.1,393.2" fill="#39e0d8" /><polygon points="399.9,390.8 403.6,392.5 403.6,398.2 399.9,396.5" fill="#2fd0e8" /><polygon points="405.0,393.1 408.7,394.8 408.7,400.5 405.0,398.8" fill="#2aa8e8" /><polygon points="410.1,395.4 413.8,397.0 413.8,402.8 410.1,401.1" fill="#39e0d8" /><polygon points="399.9,398.7 403.6,400.4 403.6,406.1 399.9,404.5" fill="#2fd0e8" /><polygon points="405.0,401.0 408.7,402.7 408.7,408.4 405.0,406.7" fill="#2aa8e8" /><polygon points="410.1,403.3 413.8,405.0 413.8,410.7 410.1,409.0" fill="#39e0d8" /><polygon points="419.1,387.0 435.9,378.0 435.9,404.5 419.1,413.5" fill="#1b2434" /><polygon points="420.6,390.9 424.2,389.0 424.2,396.1 420.6,398.0" fill="#39e0d8" /><polygon points="425.6,388.2 429.3,386.3 429.3,393.4 425.6,395.3" fill="#2fd0e8" /><polygon points="430.7,385.5 434.3,383.6 434.3,390.7 430.7,392.6" fill="#2ccbe0" /><polygon points="420.6,400.8 424.2,398.8 424.2,405.9 420.6,407.9" fill="#39e0d8" /><polygon points="425.6,398.1 429.3,396.1 429.3,403.2 425.6,405.2" fill="#2fd0e8" /><polygon points="430.7,395.4 434.3,393.4 434.3,400.5 430.7,402.5" fill="#2ccbe0" /></g>
<g transform="translate(0.0 0.0)"><g fill="none" stroke="#f2f3f6" stroke-linecap="round"><path d="M284 462 Q316 472.5 350 458" stroke-width="2.2" opacity="0.85"/><path d="M283.5 449 Q281 441 293 440 H312" stroke-width="2.4"/><path d="M291 445 H312 M291 449.5 H311" stroke-width="2"/><path d="M285 452.5 H338" stroke-width="1.8" opacity="0.8"/><path d="M335 433 Q352 440 348 447 Q345 452 338 452" stroke-width="2.4"/><path d="M313 441 H330 M315 441 V450 M322 441 V450 M329 443 V450 M322 446 H333" stroke-width="2.3"/><path d="M300 429 h2.4 M308 429 h2.4" stroke-width="2.4"/><path d="M283 431 Q290 426 298 428 M330 427 Q342 426 349 432" stroke-width="1.2" opacity="0.4"/><path d="M317 436 Q318 427 325 427.5 Q331 428 331 435" stroke="#34bfe6" stroke-width="2.4"/></g></g>
<g transform="translate(859.0 1.0)"><g fill="none" stroke="#f2f3f6" stroke-linecap="round"><path d="M284 462 Q316 472.5 350 458" stroke-width="2.2" opacity="0.85"/><path d="M283.5 449 Q281 441 293 440 H312" stroke-width="2.4"/><path d="M291 445 H312 M291 449.5 H311" stroke-width="2"/><path d="M285 452.5 H338" stroke-width="1.8" opacity="0.8"/><path d="M335 433 Q352 440 348 447 Q345 452 338 452" stroke-width="2.4"/><path d="M313 441 H330 M315 441 V450 M322 441 V450 M329 443 V450 M322 446 H333" stroke-width="2.3"/><path d="M300 429 h2.4 M308 429 h2.4" stroke-width="2.4"/><path d="M283 431 Q290 426 298 428 M330 427 Q342 426 349 432" stroke-width="1.2" opacity="0.4"/><path d="M317 436 Q318 427 325 427.5 Q331 428 331 435" stroke="#34bfe6" stroke-width="2.4"/></g></g>
<g transform="translate(0.0 0.0)"><path d="M301.4 477 L311.6 494.5 H304.4 V613 Q301.4 614.5 298.4 613 V494.5 H291.2 Z" fill="url(#gUpThin)"/><path d="M324.7 467 L333 478.5 H329.4 V583 H337.7 L324.7 604.8 L311.7 583 H320 V478.5 H316.4 Z" fill="url(#gDownThick)"/></g>
<g transform="translate(859.6 0.0)"><path d="M301.4 477 L311.6 494.5 H304.4 V613 Q301.4 614.5 298.4 613 V494.5 H291.2 Z" fill="url(#gUpThin)"/><path d="M324.7 467 L333 478.5 H329.4 V583 H337.7 L324.7 604.8 L311.7 583 H320 V478.5 H316.4 Z" fill="url(#gDownThick)"/></g>
<polygon points="277.5,450.0 259.3,455.4 263.3,459.7 223.7,496.5 219.7,492.2 213.0,510.0 231.2,504.6 227.2,500.3 266.8,463.5 270.8,467.8" fill="url(#gDiag)" />
<line x1="281" y1="467.5" x2="240" y2="504" stroke="#2fb4a8" stroke-width="2" stroke-dasharray="3 4.5" opacity="0.85"/>
<polygon points="1131.0,434.5 1112.6,439.3 1116.5,443.7 1057.1,495.8 1053.2,491.4 1046.0,509.0 1064.4,504.2 1060.5,499.8 1119.9,447.7 1123.8,452.1" fill="url(#gDiag)" />
<line x1="1130" y1="458" x2="1078" y2="504" stroke="#2fb4a8" stroke-width="1.8" stroke-dasharray="3 4.5" opacity="0.8"/>
<path d="M566.3 458.0 l12.6 21.5 h-8.3 V582.4 h8.3 L566.3 603.4 l-12.6 -21 h8.3 V479.5 h-8.3 Z" fill="url(#gDbl)"/><line x1="547.2" y1="460.0" x2="547.2" y2="502.0" stroke="#49d080" stroke-width="2" stroke-dasharray="2 6.5" opacity="0.9"/><line x1="547.2" y1="502.0" x2="547.2" y2="589.0" stroke="#eef2f4" stroke-width="2.1" stroke-dasharray="2.1 2.3"/><path d="M547.2 593.0 l3 -4.5 M547.2 593.0 l-3.2 -4.5" stroke="#eef2f4" stroke-width="1.4" fill="none"/>
<path d="M1421.7 457.5 l12.6 21.5 h-8.3 V582.0 h8.3 L1421.7 603.0 l-12.6 -21 h8.3 V479.0 h-8.3 Z" fill="url(#gDbl)"/><line x1="1401.7" y1="460.0" x2="1401.7" y2="502.0" stroke="#49d080" stroke-width="2" stroke-dasharray="2 6.5" opacity="0.9"/><line x1="1401.7" y1="502.0" x2="1401.7" y2="589.0" stroke="#eef2f4" stroke-width="2.1" stroke-dasharray="2.1 2.3"/><path d="M1401.7 593.0 l3 -4.5 M1401.7 593.0 l-3.2 -4.5" stroke="#eef2f4" stroke-width="1.4" fill="none"/>
<path d="M349 528 Q338 514 352 505 M358 508 L372 503 M520 505 Q540 520 520 530" fill="none" stroke="#8a8f9b" stroke-width="1.2" opacity="0.35"/>
<text x="442.0" y="529.5" font-size="24.2" font-weight="400" fill="#8b8e96" text-anchor="middle" >+同城双活+</text>
<text x="443.5" y="563.0" font-size="24.0" font-weight="400" fill="#8b8e96" text-anchor="middle" >异地灾备</text>
<path d="M1212 528 Q1198 514 1212 503 M1214 502 L1232 497 M1378 497 Q1392 512 1378 524 M1215 518 H1345" fill="none" stroke="#9499a5" stroke-width="1.2" opacity="0.35"/>
<text x="1296.0" y="525.5" font-size="23.0" font-weight="400" fill="#8d9099" text-anchor="middle" opacity="0.62">-同城居+</text>
<text x="1302.0" y="558.0" font-size="23.2" font-weight="400" fill="#9c9fa6" text-anchor="middle" >三中心</text>
<path d="M1259 540 Q1251 550 1260 562 M1346 540 Q1354 550 1346 562" fill="none" stroke="#9499a5" stroke-width="1.1" opacity="0.4"/>
<path d="M108 612 V535 L170 501 M212 511 L233 523 V601" fill="none" stroke="#3d8fd8" stroke-width="1.1" opacity="0.9"/><path d="M100 548 V576 M240 549 V577" stroke="#3d9be6" stroke-width="1.6" stroke-dasharray="1.6 5" fill="none" opacity="0.8"/><ellipse cx="174.0" cy="627" rx="84.0" ry="36" fill="none" stroke="#6f86a8" stroke-width="1" opacity="0.55"/><g transform="translate(172.0 0) scale(1.000 1) translate(-172.0 0)"><path d="M98 628 Q97 610 118 610 Q124 601 140 601 H205 Q222 598 230 607 Q248 610 246 628 Q245 640 222 641 Q205 650 172 649 Q140 650 122 643 Q100 642 98 628 Z" fill="#9aa6d6" transform="translate(0 3.5)"/><path d="M98 628 Q97 610 118 610 Q124 601 140 601 H205 Q222 598 230 607 Q248 610 246 628 Q245 640 222 641 Q205 650 172 649 Q140 650 122 643 Q100 642 98 628 Z" fill="url(#gCloudBase)"/></g><path d="M183 622 L196 629" stroke="#9fe0a0" stroke-width="1.2"/><ellipse cx="199" cy="630.5" rx="6" ry="3.6" fill="#7fe05a"/><polygon points="132.0,541.4 187.0,512.0 211.0,525.0 157.0,553.5" fill="#d9dbee" /><polygon points="132.0,541.4 157.0,553.5 157.0,636.5 132.0,624.4" fill="#9698b6" /><polygon points="157.0,553.5 211.0,525.0 211.0,608.0 157.0,636.5" fill="#b3b6d0" /><polygon points="132.0,545.1 157.0,557.2 157.0,561.8 132.0,549.7" fill="#8286ac" /><polygon points="134.5,553.4 155.8,563.7 155.8,594.4 134.5,584.1" fill="#1b2434" /><polygon points="137.0,560.4 153.2,568.3 153.2,574.1 137.0,566.2" fill="#2aa6ee" /><polygon points="137.0,573.7 153.2,581.6 153.2,587.4 137.0,579.5" fill="#2fc4ea" /><polygon points="134.5,589.9 155.8,600.2 155.8,624.3 134.5,614.0" fill="#1b2434" /><polygon points="137.0,595.3 153.2,603.1 153.2,609.8 137.0,601.9" fill="#2fb0ee" /><polygon points="137.0,605.2 153.2,613.1 153.2,618.1 137.0,610.2" fill="#9fe6e0" /><polygon points="162.4,556.5 207.8,532.5 207.8,567.4 162.4,591.3" fill="#1b2434" /><polygon points="166.3,559.4 170.7,557.1 170.7,563.4 166.3,565.7" fill="#2f9cee" /><polygon points="173.0,555.9 177.4,553.5 177.4,559.8 173.0,562.2" fill="#3f74e8" /><polygon points="179.8,552.3 184.2,550.0 184.2,556.3 179.8,558.6" fill="#2a70d8" /><polygon points="186.5,548.7 190.9,546.4 190.9,552.7 186.5,555.0" fill="#39e0d8" /><polygon points="193.3,545.2 197.7,542.9 197.7,549.2 193.3,551.5" fill="#2fd0e8" /><polygon points="200.0,541.6 204.4,539.3 204.4,545.6 200.0,547.9" fill="#3fe0d0" /><polygon points="166.3,569.1 170.7,566.8 170.7,573.1 166.3,575.4" fill="#2f9cee" /><polygon points="173.0,565.5 177.4,563.2 177.4,569.5 173.0,571.8" fill="#3f74e8" /><polygon points="179.8,562.0 184.2,559.7 184.2,566.0 179.8,568.3" fill="#2a70d8" /><polygon points="186.5,558.4 190.9,556.1 190.9,562.4 186.5,564.7" fill="#39e0d8" /><polygon points="193.3,554.9 197.7,552.5 197.7,558.8 193.3,561.2" fill="#2fd0e8" /><polygon points="200.0,551.3 204.4,549.0 204.4,555.3 200.0,557.6" fill="#3fe0d0" /><polygon points="166.3,578.8 170.7,576.5 170.7,582.8 166.3,585.1" fill="#2f9cee" /><polygon points="173.0,575.2 177.4,572.9 177.4,579.2 173.0,581.5" fill="#3f74e8" /><polygon points="179.8,571.7 184.2,569.4 184.2,575.6 179.8,578.0" fill="#2a70d8" /><polygon points="186.5,568.1 190.9,565.8 190.9,572.1 186.5,574.4" fill="#39e0d8" /><polygon points="193.3,564.5 197.7,562.2 197.7,568.5 193.3,570.8" fill="#2fd0e8" /><polygon points="200.0,561.0 204.4,558.7 204.4,565.0 200.0,567.3" fill="#3fe0d0" /><polygon points="157.0,597.5 211.0,569.0 211.0,571.5 157.0,600.0" fill="#6d7092" /><polygon points="162.4,602.1 207.8,578.2 207.8,598.1 162.4,622.0" fill="#1b2434" /><polygon points="165.6,606.1 169.4,604.1 169.4,612.7 165.6,614.7" fill="#2fb4e6" /><polygon points="171.4,603.0 175.3,601.0 175.3,609.6 171.4,611.6" fill="#3f74c8" /><polygon points="177.3,599.9 181.1,597.9 181.1,606.5 177.3,608.5" fill="#2a8cd8" /><polygon points="189.0,593.7 192.8,591.7 192.8,600.3 189.0,602.3" fill="#3f5a80" /><polygon points="194.9,590.6 198.7,588.6 198.7,597.2 194.9,599.2" fill="#39d890" /><polygon points="200.8,587.5 204.6,585.5 204.6,594.1 200.8,596.1" fill="#34c4a0" />
<g transform="translate(825.0 1.0)"><path d="M108 612 V535 L170 501 M212 511 L233 523 V601" fill="none" stroke="#3d8fd8" stroke-width="1.1" opacity="0.9"/><path d="M100 548 V576 M240 549 V577" stroke="#3d9be6" stroke-width="1.6" stroke-dasharray="1.6 5" fill="none" opacity="0.8"/><ellipse cx="172.0" cy="627" rx="79.5" ry="36" fill="none" stroke="#6f86a8" stroke-width="1" opacity="0.55"/><g transform="translate(170.0 0) scale(0.946 1) translate(-172.0 0)"><path d="M98 628 Q97 610 118 610 Q124 601 140 601 H205 Q222 598 230 607 Q248 610 246 628 Q245 640 222 641 Q205 650 172 649 Q140 650 122 643 Q100 642 98 628 Z" fill="#9aa6d6" transform="translate(0 3.5)"/><path d="M98 628 Q97 610 118 610 Q124 601 140 601 H205 Q222 598 230 607 Q248 610 246 628 Q245 640 222 641 Q205 650 172 649 Q140 650 122 643 Q100 642 98 628 Z" fill="url(#gCloudBase)"/></g><path d="M183 622 L196 629" stroke="#9fe0a0" stroke-width="1.2"/><ellipse cx="199" cy="630.5" rx="6" ry="3.6" fill="#7fe05a"/><polygon points="132.0,541.4 187.0,512.0 211.0,525.0 157.0,553.5" fill="#d9dbee" /><polygon points="132.0,541.4 157.0,553.5 157.0,636.5 132.0,624.4" fill="#9698b6" /><polygon points="157.0,553.5 211.0,525.0 211.0,608.0 157.0,636.5" fill="#b3b6d0" /><polygon points="132.0,545.1 157.0,557.2 157.0,561.8 132.0,549.7" fill="#8286ac" /><polygon points="134.5,553.4 155.8,563.7 155.8,594.4 134.5,584.1" fill="#1b2434" /><polygon points="137.0,560.4 153.2,568.3 153.2,574.1 137.0,566.2" fill="#2aa6ee" /><polygon points="137.0,573.7 153.2,581.6 153.2,587.4 137.0,579.5" fill="#2fc4ea" /><polygon points="134.5,589.9 155.8,600.2 155.8,624.3 134.5,614.0" fill="#1b2434" /><polygon points="137.0,595.3 153.2,603.1 153.2,609.8 137.0,601.9" fill="#2fb0ee" /><polygon points="137.0,605.2 153.2,613.1 153.2,618.1 137.0,610.2" fill="#9fe6e0" /><polygon points="162.4,556.5 207.8,532.5 207.8,567.4 162.4,591.3" fill="#1b2434" /><polygon points="166.3,559.4 170.7,557.1 170.7,563.4 166.3,565.7" fill="#2f9cee" /><polygon points="173.0,555.9 177.4,553.5 177.4,559.8 173.0,562.2" fill="#3f74e8" /><polygon points="179.8,552.3 184.2,550.0 184.2,556.3 179.8,558.6" fill="#2a70d8" /><polygon points="186.5,548.7 190.9,546.4 190.9,552.7 186.5,555.0" fill="#39e0d8" /><polygon points="193.3,545.2 197.7,542.9 197.7,549.2 193.3,551.5" fill="#2fd0e8" /><polygon points="200.0,541.6 204.4,539.3 204.4,545.6 200.0,547.9" fill="#3fe0d0" /><polygon points="166.3,569.1 170.7,566.8 170.7,573.1 166.3,575.4" fill="#2f9cee" /><polygon points="173.0,565.5 177.4,563.2 177.4,569.5 173.0,571.8" fill="#3f74e8" /><polygon points="179.8,562.0 184.2,559.7 184.2,566.0 179.8,568.3" fill="#2a70d8" /><polygon points="186.5,558.4 190.9,556.1 190.9,562.4 186.5,564.7" fill="#39e0d8" /><polygon points="193.3,554.9 197.7,552.5 197.7,558.8 193.3,561.2" fill="#2fd0e8" /><polygon points="200.0,551.3 204.4,549.0 204.4,555.3 200.0,557.6" fill="#3fe0d0" /><polygon points="166.3,578.8 170.7,576.5 170.7,582.8 166.3,585.1" fill="#2f9cee" /><polygon points="173.0,575.2 177.4,572.9 177.4,579.2 173.0,581.5" fill="#3f74e8" /><polygon points="179.8,571.7 184.2,569.4 184.2,575.6 179.8,578.0" fill="#2a70d8" /><polygon points="186.5,568.1 190.9,565.8 190.9,572.1 186.5,574.4" fill="#39e0d8" /><polygon points="193.3,564.5 197.7,562.2 197.7,568.5 193.3,570.8" fill="#2fd0e8" /><polygon points="200.0,561.0 204.4,558.7 204.4,565.0 200.0,567.3" fill="#3fe0d0" /><polygon points="157.0,597.5 211.0,569.0 211.0,571.5 157.0,600.0" fill="#6d7092" /><polygon points="162.4,602.1 207.8,578.2 207.8,598.1 162.4,622.0" fill="#1b2434" /><polygon points="165.6,606.1 169.4,604.1 169.4,612.7 165.6,614.7" fill="#2fb4e6" /><polygon points="171.4,603.0 175.3,601.0 175.3,609.6 171.4,611.6" fill="#3f74c8" /><polygon points="177.3,599.9 181.1,597.9 181.1,606.5 177.3,608.5" fill="#2a8cd8" /><polygon points="189.0,593.7 192.8,591.7 192.8,600.3 189.0,602.3" fill="#3f5a80" /><polygon points="194.9,590.6 198.7,588.6 198.7,597.2 194.9,599.2" fill="#39d890" /><polygon points="200.8,587.5 204.6,585.5 204.6,594.1 200.8,596.1" fill="#34c4a0" /></g>
<path d="M180.2 746.9 Q166.0 739.5 180.1 731.9 L271.9 682.1 Q286.0 674.5 300.2 681.9 L412.8 741.1 Q427.0 748.5 413.2 756.7 L326.3 808.3 Q312.5 816.5 298.3 809.1 Z" fill="#4a90f0" opacity="0.3" filter="url(#blur4)"/><path d="M181.0 749.8 Q165.0 741.5 181.0 733.2 L270.0 686.8 Q286.0 678.5 302.1 686.5 L412.9 742.0 Q429.0 750.0 413.5 759.2 L329.0 809.8 Q313.5 819.0 297.5 810.7 Z" fill="none" stroke="#3a9aee" stroke-width="1.2"/><path d="M182.4 746.0 Q170.0 739.5 182.3 732.8 L273.7 683.2 Q286.0 676.5 298.4 683.0 L410.6 742.0 Q423.0 748.5 410.9 755.6 L324.6 806.4 Q312.5 813.5 300.1 807.0 Z" fill="url(#gBluePlat)"/><path d="M216.0 740.7 Q205.0 736.0 215.4 730.1 L259.6 704.9 Q270.0 699.0 281.0 703.8 L365.0 740.7 Q376.0 745.5 365.8 751.9 L325.7 777.1 Q315.5 783.5 304.5 778.8 Z" fill="url(#gBlueIn)"/><ellipse cx="305" cy="748" rx="50" ry="26" fill="#d4ecfc" opacity="0.4" filter="url(#blur8)"/><polygon points="254.0,640.0 272.0,636.0 276.0,712.0 262.0,716.0" fill="url(#gBeamW)" /><polygon points="327.0,636.0 347.0,642.0 342.0,715.0 326.0,712.0" fill="url(#gBeamW)" /><polygon points="248.0,724.0 295.5,699.0 345.4,724.0 300.0,749.2" fill="#7f8cc0" /><polygon points="248.0,724.0 300.0,749.2 300.0,764.7 248.0,739.5" fill="#a5addc" /><polygon points="300.0,749.2 345.4,724.0 345.4,739.5 300.0,764.7" fill="#c0c8ea" /><polygon points="303.6,751.8 319.1,743.3 319.1,748.2 303.6,756.8" fill="#43dbe4" /><polygon points="280.2,744.0 294.8,751.0 294.8,756.9 280.2,749.9" fill="#3fd4e4" /><polygon points="251.1,729.4 265.7,736.4 265.7,742.2 251.1,735.1" fill="#8088b8" /><polygon points="330.0,736.4 342.7,729.4 342.7,736.4 330.0,743.4" fill="#b8e888" /><polygon points="248.0,708.6 295.5,683.5 345.4,708.6 300.0,733.8" fill="#d3ebf0" /><polygon points="248.0,708.6 300.0,733.8 300.0,745.3 248.0,720.1" fill="#a9b0dc" /><polygon points="300.0,733.8 345.4,708.6 345.4,720.1 300.0,745.3" fill="#c6ccec" /><polygon points="250.6,712.2 263.6,718.5 263.6,725.4 250.6,719.1" fill="#7f88ba" /><polygon points="282.3,728.1 295.8,734.7 295.8,740.1 282.3,733.5" fill="#3fd8e6" /><polygon points="303.2,734.9 315.4,728.1 315.4,733.3 303.2,740.1" fill="#43dbe4" /><polygon points="330.9,718.4 343.1,711.6 343.1,718.5 330.9,725.3" fill="#8fc4ee" /><ellipse cx="290" cy="704" rx="30" ry="13" fill="#c8f0b8" opacity="0.55" filter="url(#blur4)"/><rect x="271.6" y="633" width="6.8" height="75" rx="3" fill="url(#gBeam)"/><rect x="319.8" y="633" width="7" height="77" rx="3" fill="url(#gBeam)"/><path d="M299.5 650.5 L308.7 655 V664 Q307 669 299.5 671.5 Q292 669 290.3 664 V655 Z" fill="#8fe03c"/><path d="M295.5 660.5 L302.8 657.5 L299.8 664.5 L298.8 661.5 Z" fill="#f4fff0"/>
<g transform="translate(853.5 -0.5)"><path d="M180.2 746.9 Q166.0 739.5 180.1 731.9 L271.9 682.1 Q286.0 674.5 300.2 681.9 L412.8 741.1 Q427.0 748.5 413.2 756.7 L326.3 808.3 Q312.5 816.5 298.3 809.1 Z" fill="#4a90f0" opacity="0.3" filter="url(#blur4)"/><path d="M181.0 749.8 Q165.0 741.5 181.0 733.2 L270.0 686.8 Q286.0 678.5 302.1 686.5 L412.9 742.0 Q429.0 750.0 413.5 759.2 L329.0 809.8 Q313.5 819.0 297.5 810.7 Z" fill="none" stroke="#3a9aee" stroke-width="1.2"/><path d="M182.4 746.0 Q170.0 739.5 182.3 732.8 L273.7 683.2 Q286.0 676.5 298.4 683.0 L410.6 742.0 Q423.0 748.5 410.9 755.6 L324.6 806.4 Q312.5 813.5 300.1 807.0 Z" fill="url(#gBluePlat)"/><path d="M216.0 740.7 Q205.0 736.0 215.4 730.1 L259.6 704.9 Q270.0 699.0 281.0 703.8 L365.0 740.7 Q376.0 745.5 365.8 751.9 L325.7 777.1 Q315.5 783.5 304.5 778.8 Z" fill="url(#gBlueIn)"/><ellipse cx="305" cy="748" rx="50" ry="26" fill="#d4ecfc" opacity="0.4" filter="url(#blur8)"/><polygon points="254.0,640.0 272.0,636.0 276.0,712.0 262.0,716.0" fill="url(#gBeamW)" /><polygon points="327.0,636.0 347.0,642.0 342.0,715.0 326.0,712.0" fill="url(#gBeamW)" /><polygon points="248.0,724.0 295.5,699.0 345.4,724.0 300.0,749.2" fill="#7f8cc0" /><polygon points="248.0,724.0 300.0,749.2 300.0,764.7 248.0,739.5" fill="#a5addc" /><polygon points="300.0,749.2 345.4,724.0 345.4,739.5 300.0,764.7" fill="#c0c8ea" /><polygon points="303.6,751.8 319.1,743.3 319.1,748.2 303.6,756.8" fill="#43dbe4" /><polygon points="280.2,744.0 294.8,751.0 294.8,756.9 280.2,749.9" fill="#3fd4e4" /><polygon points="251.1,729.4 265.7,736.4 265.7,742.2 251.1,735.1" fill="#8088b8" /><polygon points="330.0,736.4 342.7,729.4 342.7,736.4 330.0,743.4" fill="#b8e888" /><polygon points="248.0,708.6 295.5,683.5 345.4,708.6 300.0,733.8" fill="#d3ebf0" /><polygon points="248.0,708.6 300.0,733.8 300.0,745.3 248.0,720.1" fill="#a9b0dc" /><polygon points="300.0,733.8 345.4,708.6 345.4,720.1 300.0,745.3" fill="#c6ccec" /><polygon points="250.6,712.2 263.6,718.5 263.6,725.4 250.6,719.1" fill="#7f88ba" /><polygon points="282.3,728.1 295.8,734.7 295.8,740.1 282.3,733.5" fill="#3fd8e6" /><polygon points="303.2,734.9 315.4,728.1 315.4,733.3 303.2,740.1" fill="#43dbe4" /><polygon points="330.9,718.4 343.1,711.6 343.1,718.5 330.9,725.3" fill="#8fc4ee" /><ellipse cx="290" cy="704" rx="30" ry="13" fill="#c8f0b8" opacity="0.55" filter="url(#blur4)"/><rect x="271.6" y="633" width="6.8" height="75" rx="3" fill="url(#gBeam)"/><rect x="319.8" y="633" width="7" height="77" rx="3" fill="url(#gBeam)"/><path d="M299.5 650.5 L308.7 655 V664 Q307 669 299.5 671.5 Q292 669 290.3 664 V655 Z" fill="#8fe03c"/><path d="M295.5 660.5 L302.8 657.5 L299.8 664.5 L298.8 661.5 Z" fill="#f4fff0"/></g>
<path d="M466 668 Q520 698 612 662" fill="none" stroke="#6f86a8" stroke-width="1" opacity="0.6"/><path d="M464.5 652 Q464 636 486 634 Q492 622 512 622 H560 Q580 618 590 630 Q613 632 612.5 650 Q611 664 588 666 Q566 681 530 681 Q498 682 484 672 Q465 668 464.5 652 Z" fill="#98a4d6" transform="translate(0 3.5)"/><path d="M464.5 652 Q464 636 486 634 Q492 622 512 622 H560 Q580 618 590 630 Q613 632 612.5 650 Q611 664 588 666 Q566 681 530 681 Q498 682 484 672 Q465 668 464.5 652 Z" fill="url(#gCloudBase)"/><path d="M503.0 645.0 v9.0 a19.0 7.0 0 0 0 38.0 0 v-9.0 Z" fill="url(#gCyl)"/><ellipse cx="522.0" cy="645.0" rx="19.0" ry="7.0" fill="#a6dcfa"/><path d="M503.0 649.7 a19.0 7.0 0 0 0 38.0 0" fill="none" stroke="#48c0f0" stroke-width="2.2" opacity="0.8"/><path d="M503.0 634.5 v9.0 a19.0 7.0 0 0 0 38.0 0 v-9.0 Z" fill="url(#gCyl)"/><ellipse cx="522.0" cy="634.5" rx="19.0" ry="7.0" fill="#a6dcfa"/><path d="M503.0 639.2 a19.0 7.0 0 0 0 38.0 0" fill="none" stroke="#48c0f0" stroke-width="2.2" opacity="0.8"/><path d="M503.0 624.0 v9.0 a19.0 7.0 0 0 0 38.0 0 v-9.0 Z" fill="url(#gCyl)"/><ellipse cx="522.0" cy="624.0" rx="19.0" ry="7.0" fill="#a6dcfa"/><path d="M503.0 628.7 a19.0 7.0 0 0 0 38.0 0" fill="none" stroke="#48c0f0" stroke-width="2.2" opacity="0.8"/><path d="M547.5 636.5 v8.0 a14.5 5.5 0 0 0 29.0 0 v-8.0 Z" fill="url(#gCyl)"/><ellipse cx="562.0" cy="636.5" rx="14.5" ry="5.5" fill="#a6dcfa"/><path d="M547.5 640.8 a14.5 5.5 0 0 0 29.0 0" fill="none" stroke="#48c0f0" stroke-width="2.2" opacity="0.8"/><path d="M547.5 627.0 v8.0 a14.5 5.5 0 0 0 29.0 0 v-8.0 Z" fill="url(#gCyl)"/><ellipse cx="562.0" cy="627.0" rx="14.5" ry="5.5" fill="#a6dcfa"/><path d="M547.5 631.3 a14.5 5.5 0 0 0 29.0 0" fill="none" stroke="#48c0f0" stroke-width="2.2" opacity="0.8"/><path d="M507 624 Q503 613 510 608 Q509 595 523 592.5 Q536 590 541 601 Q552 598 555 609 Q558 620 549 627 Q540 631 530 626 Q518 632 507 624 Z" fill="url(#gCloudTop)"/><path d="M510 608 Q509 595 523 592.5 Q536 590 541 601" fill="none" stroke="#d8ecfb" stroke-width="1.6" opacity="0.8"/><polygon points="510.0,656.5 524.0,651.0 537.0,657.0 523.5,662.5" fill="#a8f03a" /><polygon points="510.0,656.5 523.5,662.5 523.5,676.0 510.0,670.0" fill="#72d42c" /><polygon points="523.5,662.5 537.0,657.0 537.0,670.5 523.5,676.0" fill="#86e232" />
<g transform="translate(854.0 0.0)"><path d="M466 668 Q520 698 612 662" fill="none" stroke="#6f86a8" stroke-width="1" opacity="0.6"/><path d="M464.5 652 Q464 636 486 634 Q492 622 512 622 H560 Q580 618 590 630 Q613 632 612.5 650 Q611 664 588 666 Q566 681 530 681 Q498 682 484 672 Q465 668 464.5 652 Z" fill="#98a4d6" transform="translate(0 3.5)"/><path d="M464.5 652 Q464 636 486 634 Q492 622 512 622 H560 Q580 618 590 630 Q613 632 612.5 650 Q611 664 588 666 Q566 681 530 681 Q498 682 484 672 Q465 668 464.5 652 Z" fill="url(#gCloudBase)"/><path d="M503.0 645.0 v9.0 a19.0 7.0 0 0 0 38.0 0 v-9.0 Z" fill="url(#gCyl)"/><ellipse cx="522.0" cy="645.0" rx="19.0" ry="7.0" fill="#a6dcfa"/><path d="M503.0 649.7 a19.0 7.0 0 0 0 38.0 0" fill="none" stroke="#48c0f0" stroke-width="2.2" opacity="0.8"/><path d="M503.0 634.5 v9.0 a19.0 7.0 0 0 0 38.0 0 v-9.0 Z" fill="url(#gCyl)"/><ellipse cx="522.0" cy="634.5" rx="19.0" ry="7.0" fill="#a6dcfa"/><path d="M503.0 639.2 a19.0 7.0 0 0 0 38.0 0" fill="none" stroke="#48c0f0" stroke-width="2.2" opacity="0.8"/><path d="M503.0 624.0 v9.0 a19.0 7.0 0 0 0 38.0 0 v-9.0 Z" fill="url(#gCyl)"/><ellipse cx="522.0" cy="624.0" rx="19.0" ry="7.0" fill="#a6dcfa"/><path d="M503.0 628.7 a19.0 7.0 0 0 0 38.0 0" fill="none" stroke="#48c0f0" stroke-width="2.2" opacity="0.8"/><path d="M547.5 636.5 v8.0 a14.5 5.5 0 0 0 29.0 0 v-8.0 Z" fill="url(#gCyl)"/><ellipse cx="562.0" cy="636.5" rx="14.5" ry="5.5" fill="#a6dcfa"/><path d="M547.5 640.8 a14.5 5.5 0 0 0 29.0 0" fill="none" stroke="#48c0f0" stroke-width="2.2" opacity="0.8"/><path d="M547.5 627.0 v8.0 a14.5 5.5 0 0 0 29.0 0 v-8.0 Z" fill="url(#gCyl)"/><ellipse cx="562.0" cy="627.0" rx="14.5" ry="5.5" fill="#a6dcfa"/><path d="M547.5 631.3 a14.5 5.5 0 0 0 29.0 0" fill="none" stroke="#48c0f0" stroke-width="2.2" opacity="0.8"/><path d="M507 624 Q503 613 510 608 Q509 595 523 592.5 Q536 590 541 601 Q552 598 555 609 Q558 620 549 627 Q540 631 530 626 Q518 632 507 624 Z" fill="url(#gCloudTop)"/><path d="M510 608 Q509 595 523 592.5 Q536 590 541 601" fill="none" stroke="#d8ecfb" stroke-width="1.6" opacity="0.8"/><polygon points="510.0,656.5 524.0,651.0 537.0,657.0 523.5,662.5" fill="#a8f03a" /><polygon points="510.0,656.5 523.5,662.5 523.5,676.0 510.0,670.0" fill="#72d42c" /><polygon points="523.5,662.5 537.0,657.0 537.0,670.5 523.5,676.0" fill="#86e232" /></g>
<path d="M465.9 742 A66.5 29.5 0 0 0 598.9 742 A66.5 23.5 0 0 1 465.9 742 Z" fill="#2198f4" opacity="0.5" filter="url(#blur2)"/><path d="M465.9 742 A66.5 29.5 0 0 0 598.9 742 A66.5 23.8 0 0 1 465.9 742 Z" fill="#2198f4"/><ellipse cx="532.8" cy="727" rx="61" ry="20.5" fill="#1c5cc0" stroke="#1f74e6" stroke-width="3.6"/><ellipse cx="532.4" cy="738.6" rx="61.3" ry="23.3" fill="url(#gDiscL)"/><circle cx="497.9" cy="725.2" r="2" fill="#8fdcff" opacity="0.85"/><circle cx="495.0" cy="738.4" r="2" fill="#8fdcff" opacity="0.85"/><circle cx="568.2" cy="725.7" r="2" fill="#8fdcff" opacity="0.85"/><circle cx="570.6" cy="738.0" r="2" fill="#8fdcff" opacity="0.85"/><circle cx="522.2" cy="746.4" r="2" fill="#8fdcff" opacity="0.85"/><circle cx="510.7" cy="740.6" r="2" fill="#8fdcff" opacity="0.85"/><circle cx="546.0" cy="746.0" r="2" fill="#8fdcff" opacity="0.85"/><g fill="none" stroke="#eaf6ff" stroke-width="1.5" stroke-linejoin="round" stroke-linecap="round"><path d="M509.7 732.3 L520 730 M545 733.7 L553 732 M511.6 740.3 L521 736.5 M541.8 739.3 L547.5 745" stroke-width="1.1" opacity="0.85"/><path d="M532.4 712.4 L545.2 717.5 V735.5 L532.4 743 L519.6 735.5 V717.5 Z" fill="#3ab4f6" fill-opacity="0.75"/><path d="M525.3 721 L532 724 L540.4 720.5 M532 724 V734 M525.6 721 V733.6 L532 734 L540 733 V721" stroke-width="1.3"/></g><circle cx="554.5" cy="731.8" r="2.6" fill="#bfeaff"/>
<g transform="translate(851.5 0.0)"><path d="M465.9 742 A66.5 29.5 0 0 0 598.9 742 A66.5 23.5 0 0 1 465.9 742 Z" fill="#2198f4" opacity="0.5" filter="url(#blur2)"/><path d="M465.9 742 A66.5 29.5 0 0 0 598.9 742 A66.5 23.8 0 0 1 465.9 742 Z" fill="#2198f4"/><ellipse cx="532.8" cy="727" rx="61" ry="20.5" fill="#1c5cc0" stroke="#1f74e6" stroke-width="3.6"/><ellipse cx="532.4" cy="738.6" rx="61.3" ry="23.3" fill="url(#gDiscL)"/><circle cx="497.9" cy="725.2" r="2" fill="#8fdcff" opacity="0.85"/><circle cx="495.0" cy="738.4" r="2" fill="#8fdcff" opacity="0.85"/><circle cx="568.2" cy="725.7" r="2" fill="#8fdcff" opacity="0.85"/><circle cx="570.6" cy="738.0" r="2" fill="#8fdcff" opacity="0.85"/><circle cx="522.2" cy="746.4" r="2" fill="#8fdcff" opacity="0.85"/><circle cx="510.7" cy="740.6" r="2" fill="#8fdcff" opacity="0.85"/><circle cx="546.0" cy="746.0" r="2" fill="#8fdcff" opacity="0.85"/><g fill="none" stroke="#eaf6ff" stroke-width="1.5" stroke-linejoin="round" stroke-linecap="round"><path d="M509.7 732.3 L520 730 M545 733.7 L553 732 M511.6 740.3 L521 736.5 M541.8 739.3 L547.5 745" stroke-width="1.1" opacity="0.85"/><path d="M532.4 712.4 L545.2 717.5 V735.5 L532.4 743 L519.6 735.5 V717.5 Z" fill="#3ab4f6" fill-opacity="0.75"/><path d="M525.3 721 L532 724 L540.4 720.5 M532 724 V734 M525.6 721 V733.6 L532 734 L540 733 V721" stroke-width="1.3"/></g><circle cx="554.5" cy="731.8" r="2.6" fill="#bfeaff"/></g>
<rect x="669" y="585" width="41" height="180" fill="#39435a" opacity="0.3"/><ellipse cx="688" cy="575" rx="66" ry="20" fill="none" stroke="#2d6fc0" stroke-width="1.2" opacity="0.85"/><ellipse cx="688" cy="574" rx="49" ry="15.5" fill="#34466a" stroke="#2a64b4" stroke-width="1"/><path d="M636 596 Q650 603 668 605 M706 605 Q726 603 740 595" fill="none" stroke="#2e9ae6" stroke-width="2" stroke-dasharray="4 5"/><rect x="652" y="500" width="22" height="68" fill="url(#gTube)"/><rect x="652" y="500" width="5" height="68" fill="#7fe0b0" opacity="0.25"/><polygon points="660.2,437.0 664.2,437.0 669.0,482.0 655.5,482.0" fill="url(#gSpike)" /><rect x="654" y="478" width="18" height="26" fill="#3f9a96" opacity="0.75"/><ellipse cx="662.5" cy="477" rx="12.5" ry="4.6" fill="none" stroke="#2fa4c4" stroke-width="2" opacity="0.9"/><ellipse cx="663" cy="490" rx="11" ry="4" fill="#46a89c" opacity="0.8"/><ellipse cx="663" cy="504" rx="12.5" ry="4.5" fill="none" stroke="#3fa4a8" stroke-width="2" opacity="0.8"/><rect x="711" y="512" width="18.5" height="56" fill="url(#gTube)" opacity="0.85"/><polygon points="716.0,457.0 723.5,457.0 727.5,510.0 713.0,510.0" fill="url(#gSpike2)" /><ellipse cx="720.5" cy="512" rx="13.5" ry="5" fill="none" stroke="#4593b4" stroke-width="2.2" opacity="0.85"/><ellipse cx="720.5" cy="500" rx="11.5" ry="4" fill="none" stroke="#3f9ab0" stroke-width="1.4" opacity="0.6"/><path d="M646 560 v6 a41.7 16.5 0 0 0 83.4 0 v-6 Z" fill="#8cc4f4"/><ellipse cx="687.7" cy="560" rx="41.7" ry="16.5" fill="#d2e8fb"/><ellipse cx="687.7" cy="559.5" rx="37.5" ry="13.8" fill="#a6d2f6"/><ellipse cx="655" cy="558" rx="8" ry="9" fill="#9fe8b8" opacity="0.55"/><ellipse cx="720" cy="557" rx="7" ry="8" fill="#9fe8b8" opacity="0.45"/><path d="M666.5 536 V558 Q687.5 569 704.5 558 V536 Z" fill="#62a6ee"/><path d="M666.5 536 V558 Q676 563.5 684 563.8 V541 Z" fill="#7ab8f2"/><path d="M666 530.5 v5 a21.6 10 0 0 0 43.2 0 v-5 Z" fill="#cfd6ee"/><ellipse cx="687.6" cy="530.5" rx="21.6" ry="10" fill="#e2ebfa"/><ellipse cx="687.6" cy="531" rx="18" ry="7.8" fill="#5ea8f2"/><line x1="679.5" y1="599" x2="679.5" y2="764" stroke="#d8dadf" stroke-width="2.6" stroke-dasharray="11 7" opacity="0.85"/><line x1="694.5" y1="599" x2="694.5" y2="662" stroke="#d8dadf" stroke-width="2.6" stroke-dasharray="11 7" opacity="0.85"/><path d="M679.5 768 l-3 -5 h6 Z" fill="#9a9ca4"/><path d="M694.5 674 L701.5 688 H696.3 V760 H692.7 V688 H687.5 Z" fill="#3fd46e"/><path d="M637.5 610 V720 M733 640 V720" stroke="#2f62b0" stroke-width="1.2" opacity="0.5"/>
<ellipse cx="1541.4" cy="756" rx="70" ry="26" fill="none" stroke="#2d6fc0" stroke-width="1.2" opacity="0.9"/><ellipse cx="1541.4" cy="752" rx="47" ry="17.5" fill="#304a74"/><path d="M1482 690 V742 M1605.5 690 V742" stroke="#2aa6d8" stroke-width="1.3" opacity="0.8"/><path d="M1478 716 V738 M1610 700 V722" stroke="#2aa6d8" stroke-width="1.6" opacity="0.6"/><path d="M1486 690 Q1500 668 1541 664 Q1585 668 1600 690" fill="none" stroke="#2a9ed6" stroke-width="1.4" stroke-dasharray="22 8" opacity="0.8"/><path d="M1506.2 735.3 v11.2 a35.2 13.5 0 0 0 70.4 0 v-11.2 Z" fill="url(#gCyl)"/><path d="M1506.2 746.5 a35.2 13.5 0 0 0 70.4 0" fill="none" stroke="#e6f0fb" stroke-width="1.5"/><path d="M1506.2 724.1 v11.2 a35.2 13.5 0 0 0 70.4 0 v-11.2 Z" fill="url(#gCyl)"/><path d="M1506.2 735.3 a35.2 13.5 0 0 0 70.4 0" fill="none" stroke="#e6f0fb" stroke-width="1.5"/><path d="M1506.2 712.9 v11.2 a35.2 13.5 0 0 0 70.4 0 v-11.2 Z" fill="url(#gCyl)"/><path d="M1506.2 724.1 a35.2 13.5 0 0 0 70.4 0" fill="none" stroke="#e6f0fb" stroke-width="1.5"/><path d="M1506.2 701.7 v11.2 a35.2 13.5 0 0 0 70.4 0 v-11.2 Z" fill="url(#gCyl)"/><path d="M1506.2 712.9 a35.2 13.5 0 0 0 70.4 0" fill="none" stroke="#e6f0fb" stroke-width="1.5"/><path d="M1506.2 690.5 v11.2 a35.2 13.5 0 0 0 70.4 0 v-11.2 Z" fill="url(#gCyl)"/><path d="M1506.2 701.7 a35.2 13.5 0 0 0 70.4 0" fill="none" stroke="#e6f0fb" stroke-width="1.5"/><ellipse cx="1541.4" cy="690.5" rx="35.2" ry="13.5" fill="#d6e8fa"/><ellipse cx="1541.4" cy="691.5" rx="30.2" ry="10.3" fill="#86c8f6"/>
<rect x="640" y="635.5" width="440" height="6" fill="url(#gRed)" opacity="0.35" filter="url(#blur2)" transform="translate(0 1)"/>
<rect x="648" y="635.1" width="428" height="7" fill="url(#gRed)"/>
<path d="M625.5 638.6 L651 624.5 V653 Z" fill="#f23c3c"/>
<rect x="636" y="650.5" width="446" height="7" fill="#ee3c3e" opacity="0.3" filter="url(#blur2)"/>
<rect x="640" y="651.6" width="441" height="4.8" fill="#ee3a3c" opacity="0.95"/>
<path d="M1078.5 649.8 L1086 649.8 L1111 671.5 V678.4 H1090.5 L1096.5 673 L1078 655.8 Z" fill="#f0383c"/>
<path d="M1093 630.5 L1124 655" stroke="#e23a40" stroke-width="8.5" opacity="0.5" stroke-linecap="round" filter="url(#blur2)"/>
<path d="M1095 632.5 L1121 652.5" stroke="#e63a3e" stroke-width="6.5" opacity="0.8" stroke-linecap="round" filter="url(#blur1)"/>
<path d="M1104.5 654.5 H1119" stroke="#e63a3e" stroke-width="4" opacity="0.6" filter="url(#blur1)"/>
<line x1="707" y1="620.5" x2="776" y2="620.5" stroke="#f04a4a" stroke-width="2.4" stroke-dasharray="2.6 2.8"/>
<line x1="708" y1="620.5" x2="776" y2="620.5" stroke="#ffe0e0" stroke-width="1.2" stroke-dasharray="1.4 9.4" opacity="0.9"/>
<path d="M701.5 620.5 l5.5 -3 v6 Z M781.5 620.5 l-5.5 -3 v6 Z" fill="#f04040"/>
<line x1="719" y1="311" x2="779" y2="311" stroke="#bfeacc" stroke-width="2" stroke-dasharray="2.2 2.6"/>
<path d="M714 311 l5.5 -3.2 v6.4 Z M784 311 l-5.5 -3.2 v6.4 Z" fill="#46d47c"/>
<line x1="915" y1="311" x2="984" y2="311" stroke="#bfeacc" stroke-width="2" stroke-dasharray="2.2 2.6"/>
<path d="M910 311 l5.5 -3.2 v6.4 Z M989 311 l-5.5 -3.2 v6.4 Z" fill="#46d47c"/>
<text x="588.0" y="317.6" font-size="22.1" font-weight="500" fill="#f4f4f2" text-anchor="middle" letter-spacing="1.05" stroke="#f4f4f2" stroke-width="0.3">同城双活</text>
<text x="1439.0" y="317.8" font-size="22.1" font-weight="500" fill="#f4f4f2" text-anchor="middle" letter-spacing="1.05" stroke="#f4f4f2" stroke-width="0.3">同城双活</text>
<text x="851.2" y="318.6" font-size="22.2" font-weight="500" fill="#f4f4f2" text-anchor="middle" letter-spacing="1.05" stroke="#f4f4f2" stroke-width="0.3">数据同步</text>
<text x="848.7" y="623.4" font-size="22.1" font-weight="500" fill="#f4f4f2" text-anchor="middle" letter-spacing="1.05" stroke="#f4f4f2" stroke-width="0.3">自动切换</text>
<text x="167.0" y="686.3" font-size="22.2" font-weight="500" fill="#f4f4f2" text-anchor="middle" letter-spacing="1.05" stroke="#f4f4f2" stroke-width="0.3">数据中心</text>
<text x="989.6" y="686.3" font-size="22.4" font-weight="500" fill="#f4f4f2" text-anchor="middle" letter-spacing="1.05" stroke="#f4f4f2" stroke-width="0.3">数据中心</text>
<text x="535.2" y="801.2" font-size="21.6" font-weight="500" fill="#f4f4f2" text-anchor="middle" letter-spacing="1.05" stroke="#f4f4f2" stroke-width="0.3">主亚数据中心</text>
<text x="1385.0" y="801.0" font-size="21.4" font-weight="500" fill="#f4f4f2" text-anchor="middle" letter-spacing="1.05" stroke="#f4f4f2" stroke-width="0.3">寸亚数据中心</text>
<text x="685.0" y="812.0" font-size="22.2" font-weight="500" fill="#f4f4f2" text-anchor="middle" letter-spacing="1.05" stroke="#f4f4f2" stroke-width="0.3">异地灾备</text>
<text x="1538.8" y="811.6" font-size="22.4" font-weight="500" fill="#f4f4f2" text-anchor="middle" letter-spacing="1.05" stroke="#f4f4f2" stroke-width="0.3">异地灾备</text>
<text x="481.5" y="801.2" font-size="21.6" font-weight="400" fill="#f4f4f2" text-anchor="middle" opacity="0.35">主</text>
<text x="1331.5" y="801.0" font-size="21.4" font-weight="400" fill="#f4f4f2" text-anchor="middle" opacity="0.3">主</text>
<circle cx="543" cy="336" r="1.3" fill="#c8ccd4"/><line x1="543" y1="337" x2="543" y2="345" stroke="#8a90a0" stroke-width="0.8" opacity="0.6"/>
<path d="M1391 334 l5 2.2 l-4.6 2.6 Z" fill="#b0b4bc"/>
</svg>
</body></html>
